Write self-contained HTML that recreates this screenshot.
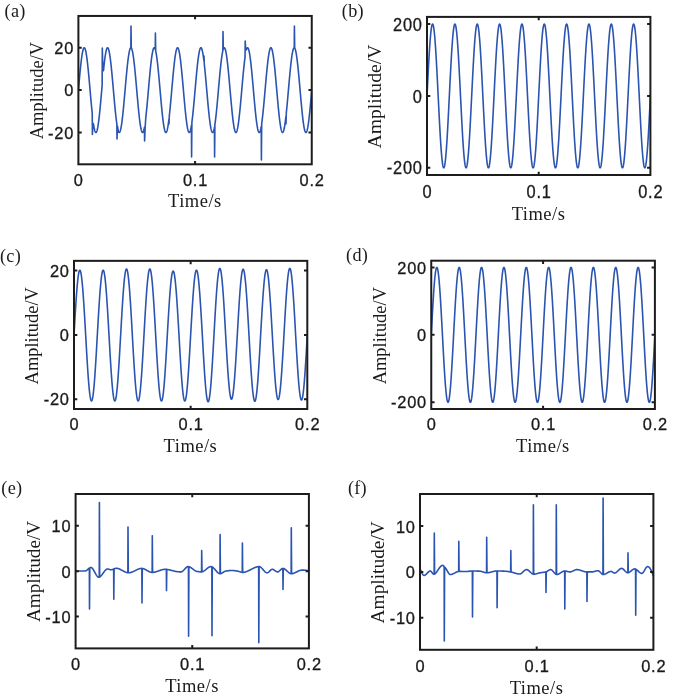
<!DOCTYPE html>
<html><head><meta charset="utf-8"><title>Amplitude vs time</title><style>html,body{margin:0;padding:0;background:#fff;width:685px;height:699px;overflow:hidden}svg{display:block}.tk{font-family:"Liberation Sans",Arial,sans-serif;font-size:16.4px;fill:#1a1a1a;stroke:#1a1a1a;stroke-width:0.3px}.lb{font-family:"Liberation Serif","Times New Roman",serif;font-size:18.2px;fill:#1a1a1a}.xl{font-size:17.8px}.yl{font-size:18.45px}</style></head><body>
<svg width="685" height="699" viewBox="0 0 685 699">
<rect width="685" height="699" fill="#fff"/>
<clipPath id="ca"><rect x="78.4" y="-14.05" width="233.35" height="208.35"/></clipPath>
<path d="M78.4 90.12 L78.65 87.27 L78.9 84.44 L79.15 81.62 L79.4 78.85 L79.65 76.13 L79.9 73.47 L80.15 70.88 L80.4 68.39 L80.65 65.99 L80.9 63.7 L81.15 61.53 L81.4 59.49 L81.65 57.59 L81.9 55.84 L82.15 54.24 L82.4 52.8 L82.65 51.54 L82.9 50.44 L83.15 49.53 L83.4 48.8 L83.65 48.26 L83.9 47.91 L84.15 47.75 L84.4 47.78 L84.65 48.01 L84.9 48.42 L85.15 49.02 L85.4 49.81 L85.65 50.78 L85.9 51.93 L86.15 53.26 L86.4 54.75 L86.65 56.4 L86.9 58.2 L87.15 60.15 L87.4 62.23 L87.65 64.44 L87.9 66.77 L88.15 69.2 L88.4 71.73 L88.65 74.34 L88.9 77.02 L89.15 79.76 L89.4 82.55 L89.65 85.37 L89.9 88.21 L90.15 91.07 L90.4 93.91 L90.65 96.75 L90.9 99.55 L91.15 102.31 L91.4 105.01 L91.65 107.64 L91.9 110.2 L92.15 112.67 L92.25 113.62 L92.4 134.4 L92.9 123 L93.6 124.63 L93.65 124.96 L93.9 126.5 L94.15 127.89 L94.4 129.09 L94.65 130.13 L94.9 130.98 L95.15 131.65 L95.4 132.13 L95.65 132.41 L95.9 132.51 L96.15 132.42 L96.4 132.13 L96.65 131.65 L96.9 130.99 L97.15 130.14 L97.4 129.11 L97.65 127.9 L97.9 126.52 L98.15 124.98 L98.4 123.27 L98.65 121.42 L98.9 119.43 L99.15 117.3 L99.4 115.05 L99.65 112.69 L99.9 110.23 L100.15 107.67 L100.4 105.04 L100.65 102.33 L100.9 99.57 L101.15 96.77 L101.4 93.94 L101.65 91.1 L101.9 88.24 L102.15 85.4 L102.15 85.4 L102.3 48 L102.8 69.5 L103.5 70.73 L103.65 69.23 L103.9 66.79 L104.15 64.46 L104.4 62.25 L104.65 60.17 L104.9 58.22 L105.15 56.42 L105.4 54.76 L105.65 53.27 L105.9 51.95 L106.15 50.79 L106.4 49.82 L106.65 49.03 L106.9 48.42 L107.15 48.01 L107.4 47.78 L107.65 47.75 L107.9 47.91 L108.15 48.26 L108.4 48.8 L108.65 49.52 L108.9 50.43 L109.15 51.52 L109.4 52.79 L109.65 54.22 L109.9 55.82 L110.15 57.57 L110.4 59.47 L110.65 61.51 L110.9 63.68 L111.15 65.97 L111.4 68.36 L111.65 70.86 L111.9 73.44 L112.15 76.1 L112.4 78.82 L112.65 81.6 L112.9 84.41 L113.15 87.25 L113.4 90.1 L113.65 92.95 L113.9 95.79 L114.15 98.6 L114.4 101.37 L114.65 104.1 L114.9 106.76 L115.15 109.34 L115.4 111.84 L115.65 114.24 L115.9 116.53 L116.15 118.7 L116.4 120.74 L116.65 122.64 L116.9 124.4 L116.85 124.06 L117 139 L117.5 126 L118.2 130.87 L118.4 131.44 L118.65 131.98 L118.9 132.34 L119.15 132.5 L119.4 132.47 L119.65 132.25 L119.9 131.84 L120.15 131.23 L120.4 130.45 L120.65 129.48 L120.9 128.33 L121.15 127.01 L121.4 125.52 L121.65 123.87 L121.9 122.07 L122.15 120.12 L122.4 118.04 L122.65 115.83 L122.9 113.51 L123.15 111.07 L123.4 108.55 L123.65 105.94 L123.9 103.26 L124.15 100.52 L124.4 97.73 L124.65 94.91 L124.9 92.06 L125.15 89.21 L125.4 86.36 L125.65 83.53 L125.9 80.73 L126.15 77.97 L126.4 75.27 L126.65 72.63 L126.9 70.07 L127.15 67.61 L127.4 65.24 L127.65 62.99 L127.9 60.86 L128.15 58.87 L128.4 57.01 L128.65 55.31 L128.9 53.76 L129.15 52.38 L129.4 51.17 L129.65 50.13 L129.9 49.28 L130.15 48.61 L130.4 48.13 L130.65 47.84 L130.9 47.74 L130.85 47.74 L131 26 L131.3 47.98 L131.4 48.12 L131.65 48.59 L131.9 49.26 L132.15 50.1 L132.4 51.13 L132.65 52.34 L132.9 53.72 L133.15 55.26 L133.4 56.96 L133.65 58.81 L133.9 60.8 L134.15 62.93 L134.4 65.17 L134.65 67.54 L134.9 70 L135.15 72.55 L135.4 75.19 L135.65 77.89 L135.9 80.65 L136.15 83.45 L136.4 86.28 L136.65 89.13 L136.9 91.98 L137.15 94.82 L137.4 97.65 L137.65 100.43 L137.9 103.18 L138.15 105.86 L138.4 108.47 L138.65 111 L138.9 113.43 L139.15 115.76 L139.4 117.97 L139.65 120.06 L139.9 122.01 L140.15 123.82 L140.4 125.47 L140.65 126.96 L140.9 128.29 L141.15 129.44 L141.4 130.42 L141.65 131.21 L141.9 131.82 L142.15 132.24 L142.4 132.47 L142.65 132.5 L142.9 132.34 L143.15 132 L143.4 131.46 L143.65 130.74 L143.9 129.83 L144.15 128.74 L144.4 127.48 L144.45 127.2 L144.6 141 L145.1 128 L145.8 117.48 L145.9 116.6 L146.15 114.31 L146.4 111.91 L146.65 109.42 L146.9 106.83 L147.15 104.18 L147.4 101.46 L147.65 98.68 L147.9 95.87 L148.15 93.03 L148.4 90.18 L148.65 87.33 L148.9 84.49 L149.15 81.68 L149.4 78.9 L149.65 76.18 L149.9 73.52 L150.15 70.93 L150.4 68.44 L150.65 66.04 L150.9 63.74 L151.15 61.57 L151.4 59.53 L151.65 57.63 L151.9 55.87 L152.15 54.27 L152.4 52.83 L152.65 51.56 L152.9 50.46 L153.15 49.55 L153.4 48.82 L153.65 48.27 L153.9 47.92 L154.15 47.75 L154.4 47.78 L154.65 48 L154.9 48.41 L155.15 49.01 L155.25 49.3 L155.4 33 L155.7 50.98 L155.9 51.91 L156.15 53.23 L156.4 54.72 L156.65 56.36 L156.9 58.16 L157.15 60.11 L157.4 62.19 L157.65 64.4 L157.9 66.72 L158.15 69.15 L158.4 71.68 L158.65 74.28 L158.9 76.96 L159.15 79.7 L159.4 82.49 L159.65 85.31 L159.9 88.16 L160.15 91.01 L160.4 93.86 L160.65 96.69 L160.9 99.49 L161.15 102.25 L161.4 104.95 L161.65 107.59 L161.9 110.15 L162.15 112.62 L162.4 114.98 L162.65 117.24 L162.9 119.37 L163.15 121.36 L163.4 123.22 L163.65 124.93 L163.9 126.48 L164.15 127.86 L164.4 129.07 L164.65 130.11 L164.9 130.96 L165.15 131.63 L165.4 132.12 L165.65 132.41 L165.9 132.51 L166.15 132.42 L166.4 132.14 L166.65 131.66 L166.9 131 L167.15 130.16 L167.4 129.13 L167.65 127.92 L167.9 126.55 L168.15 125.01 L168.4 123.31 L168.65 121.46 L168.9 119.47 L168.85 119.88 L169 124 L169.3 116.01 L169.4 115.1 L169.65 112.74 L169.9 110.28 L170.15 107.72 L170.4 105.09 L170.65 102.39 L170.9 99.63 L171.15 96.83 L171.4 94 L171.65 91.15 L171.9 88.3 L172.15 85.46 L172.4 82.63 L172.65 79.84 L172.9 77.1 L173.15 74.42 L173.4 71.8 L173.65 69.27 L173.9 66.84 L174.15 64.51 L174.4 62.3 L174.65 60.21 L174.9 58.26 L175.15 56.45 L175.4 54.79 L175.65 53.3 L175.9 51.97 L176.15 50.82 L176.4 49.84 L176.65 49.04 L176.9 48.43 L177.15 48.01 L177.4 47.79 L177.65 47.75 L177.9 47.9 L178.15 48.25 L178.4 48.78 L178.65 49.51 L178.9 50.41 L179.15 51.5 L179.4 52.76 L179.65 54.19 L179.9 55.79 L180.15 57.53 L180.4 59.43 L180.65 61.47 L180.9 63.63 L181.15 65.92 L181.4 68.31 L181.65 70.81 L181.9 73.39 L182.15 76.05 L182.4 78.77 L182.65 81.54 L182.9 84.35 L183.15 87.19 L183.4 90.04 L183.65 92.89 L183.9 95.73 L184.15 98.54 L184.4 101.32 L184.65 104.04 L184.9 106.7 L185.15 109.29 L185.4 111.79 L185.65 114.19 L185.9 116.48 L186.15 118.66 L186.4 120.7 L186.65 122.61 L186.9 124.36 L187.15 125.97 L187.4 127.41 L187.65 128.68 L187.9 129.78 L188.15 130.69 L188.4 131.43 L188.65 131.97 L188.9 132.33 L189.15 132.5 L189.4 132.47 L189.65 132.25 L189.9 131.85 L190.15 131.25 L190.4 130.46 L190.65 129.5 L190.9 128.35 L191.15 127.03 L191.4 125.55 L191.45 125.23 L191.6 157 L191.9 122.11 L192.15 120.16 L192.4 118.08 L192.65 115.88 L192.9 113.55 L193.15 111.12 L193.4 108.6 L193.65 105.99 L193.9 103.31 L194.15 100.57 L194.4 97.79 L194.65 94.96 L194.9 92.12 L195.15 89.27 L195.4 86.42 L195.65 83.59 L195.9 80.79 L196.15 78.03 L196.4 75.32 L196.65 72.68 L196.9 70.12 L197.15 67.66 L197.4 65.29 L197.65 63.04 L197.9 60.9 L198.15 58.91 L198.4 57.05 L198.65 55.34 L198.9 53.79 L199.15 52.4 L199.4 51.19 L199.65 50.15 L199.9 49.29 L200.15 48.62 L200.4 48.14 L200.65 47.84 L200.9 47.74 L201.15 47.83 L201.4 48.11 L201.65 48.58 L201.9 49.24 L202.15 50.08 L202.4 51.11 L202.65 52.31 L202.9 53.69 L203.15 55.23 L203.4 56.92 L203.65 58.77 L203.9 60.76 L203.85 60.35 L204 56 L204.3 64.22 L204.4 65.13 L204.65 67.49 L204.9 69.95 L205.15 72.5 L205.4 75.13 L205.65 77.84 L205.9 80.59 L206.15 83.39 L206.4 86.22 L206.65 89.07 L206.9 91.92 L207.15 94.77 L207.4 97.59 L207.65 100.38 L207.9 103.12 L208.15 105.81 L208.4 108.42 L208.65 110.95 L208.9 113.39 L209.15 115.72 L209.4 117.93 L209.65 120.02 L209.9 121.97 L210.15 123.78 L210.4 125.44 L210.65 126.94 L210.9 128.27 L211.15 129.42 L211.4 130.4 L211.65 131.2 L211.9 131.81 L212.15 132.23 L212.4 132.46 L212.65 132.5 L212.9 132.35 L213.15 132.01 L213.4 131.47 L213.65 130.75 L213.9 129.85 L214.15 128.76 L214.4 127.5 L214.45 127.23 L214.6 157 L214.9 124.48 L215.15 122.73 L215.4 120.84 L215.65 118.8 L215.9 116.64 L216.15 114.36 L216.4 111.96 L216.65 109.47 L216.9 106.89 L217.15 104.23 L217.4 101.51 L217.65 98.74 L217.9 95.93 L218.15 93.09 L218.4 90.24 L218.65 87.39 L218.9 84.55 L219.15 81.74 L219.4 78.96 L219.65 76.23 L219.9 73.57 L220.15 70.99 L220.4 68.48 L220.65 66.08 L220.9 63.79 L221.15 61.61 L221.4 59.57 L221.65 57.66 L221.9 55.9 L222.15 54.3 L222.4 52.86 L222.65 51.58 L222.9 50.48 L222.85 50.69 L223 31.6 L223.3 49.1 L223.4 48.83 L223.65 48.28 L223.9 47.92 L224.15 47.75 L224.4 47.78 L224.65 47.99 L224.9 48.4 L225.15 48.99 L225.4 49.78 L225.65 50.74 L225.9 51.88 L226.15 53.2 L226.4 54.68 L226.65 56.33 L226.9 58.13 L227.15 60.07 L227.4 62.15 L227.65 64.35 L227.9 66.67 L228.15 69.1 L228.4 71.62 L228.65 74.23 L228.9 76.91 L229.15 79.65 L229.4 82.44 L229.65 85.26 L229.9 88.1 L230.15 90.95 L230.4 93.8 L230.65 96.63 L230.9 99.44 L231.15 102.2 L231.4 104.9 L231.65 107.54 L231.9 110.1 L232.15 112.57 L232.4 114.94 L232.65 117.19 L232.9 119.33 L233.15 121.33 L233.4 123.18 L233.65 124.89 L233.9 126.45 L234.15 127.83 L234.4 129.05 L234.65 130.09 L234.9 130.95 L235.15 131.62 L235.4 132.11 L235.65 132.41 L235.9 132.51 L236.15 132.42 L236.4 132.14 L236.65 131.67 L236.9 131.02 L237.15 130.17 L237.4 129.15 L237.65 127.95 L237.9 126.58 L238.15 125.04 L238.4 123.34 L238.65 121.5 L238.9 119.51 L239.15 117.39 L239.4 115.14 L239.65 112.79 L239.9 110.33 L240.15 107.77 L240.4 105.14 L240.65 102.44 L240.9 99.69 L241.15 96.89 L241.4 94.06 L241.65 91.21 L241.9 88.36 L242.15 85.51 L242.4 82.69 L242.65 79.9 L242.9 77.15 L243.15 74.47 L243.4 71.86 L243.65 69.32 L243.9 66.89 L244.15 64.56 L244.4 62.34 L244.65 60.25 L244.9 58.29 L245.15 56.48 L245.05 57.19 L245.2 41 L245.7 49 L246.4 49.86 L246.4 49.86 L246.65 49.06 L246.9 48.45 L247.15 48.02 L247.4 47.79 L247.65 47.75 L247.9 47.9 L248.15 48.24 L248.4 48.77 L248.65 49.49 L248.9 50.39 L249.15 51.48 L249.4 52.73 L249.65 54.16 L249.9 55.75 L250.15 57.5 L250.4 59.39 L250.65 61.43 L250.9 63.59 L251.15 65.87 L251.4 68.26 L251.65 70.76 L251.9 73.34 L252.15 75.99 L252.4 78.71 L252.65 81.48 L252.9 84.29 L253.15 87.13 L253.4 89.98 L253.65 92.83 L253.9 95.67 L254.15 98.49 L254.4 101.26 L254.65 103.99 L254.9 106.65 L255.15 109.24 L255.4 111.74 L255.65 114.14 L255.9 116.44 L256.15 118.61 L256.4 120.66 L256.65 122.57 L256.9 124.33 L257.15 125.94 L257.4 127.38 L257.65 128.66 L257.9 129.76 L258.15 130.68 L258.4 131.42 L258.65 131.97 L258.9 132.33 L259.15 132.5 L259.4 132.47 L259.65 132.26 L259.9 131.86 L260.15 131.26 L260.4 130.48 L260.65 129.52 L260.9 128.38 L261.15 127.06 L261.25 126.49 L261.4 160 L261.7 123.59 L261.9 122.14 L262.15 120.2 L262.4 118.12 L262.65 115.92 L262.9 113.6 L263.15 111.17 L263.4 108.65 L263.65 106.04 L263.9 103.37 L264.15 100.63 L264.4 97.84 L264.65 95.02 L264.9 92.18 L265.15 89.33 L265.4 86.48 L265.65 83.65 L265.9 80.84 L266.15 78.08 L266.4 75.38 L266.65 72.74 L266.9 70.18 L267.15 67.7 L267.4 65.34 L267.65 63.08 L267.9 60.95 L268.15 58.94 L268.4 57.08 L268.65 55.37 L268.9 53.82 L269.15 52.43 L269.4 51.21 L269.65 50.17 L269.9 49.31 L270.15 48.63 L270.4 48.14 L270.65 47.85 L270.9 47.74 L271.15 47.83 L271.4 48.1 L271.65 48.57 L271.9 49.23 L272.15 50.07 L272.4 51.09 L272.65 52.29 L272.9 53.66 L273.15 55.19 L273.4 56.89 L273.65 58.73 L273.9 60.72 L274.15 62.84 L274.4 65.08 L274.65 67.44 L274.9 69.9 L275.15 72.45 L275.4 75.08 L275.65 77.78 L275.9 80.54 L276.15 83.34 L276.4 86.16 L276.65 89.01 L276.9 91.86 L277.15 94.71 L277.4 97.53 L277.65 100.32 L277.9 103.07 L278.15 105.75 L278.4 108.37 L278.65 110.9 L278.9 113.34 L279.15 115.67 L279.4 117.89 L279.65 119.98 L279.9 121.94 L280.15 123.75 L280.4 125.41 L280.65 126.91 L280.9 128.24 L281.15 129.4 L281.4 130.38 L281.65 131.19 L281.9 131.8 L282.15 132.23 L282.4 132.46 L282.65 132.5 L282.9 132.35 L283.15 132.01 L283.4 131.48 L283.65 130.77 L283.9 129.87 L284.15 128.79 L284.4 127.53 L284.65 126.1 L284.9 124.51 L285.15 122.77 L285.4 120.88 L285.65 118.85 L285.9 116.68 L285.85 117.13 L286 124 L286.3 112.98 L286.4 112.01 L286.65 109.52 L286.9 106.94 L287.15 104.28 L287.4 101.57 L287.65 98.79 L287.9 95.98 L288.15 93.15 L288.4 90.3 L288.65 87.44 L288.9 84.61 L289.15 81.79 L289.4 79.01 L289.65 76.29 L289.9 73.63 L290.15 71.04 L290.4 68.53 L290.65 66.13 L290.9 63.83 L291.15 61.66 L291.4 59.61 L291.65 57.7 L291.9 55.94 L292.15 54.33 L292.4 52.88 L292.65 51.61 L292.9 50.5 L293.15 49.58 L293.4 48.84 L293.65 48.29 L293.9 47.93 L294.15 47.75 L294.25 47.74 L294.4 26 L294.7 48.05 L294.9 48.39 L295.15 48.98 L295.4 49.76 L295.65 50.72 L295.9 51.86 L296.15 53.17 L296.4 54.65 L296.65 56.29 L296.9 58.09 L297.15 60.03 L297.4 62.1 L297.65 64.31 L297.9 66.63 L298.15 69.05 L298.4 71.57 L298.65 74.18 L298.9 76.86 L299.15 79.59 L299.4 82.38 L299.65 85.2 L299.9 88.04 L300.15 90.9 L300.4 93.74 L300.65 96.58 L300.9 99.38 L301.15 102.14 L301.4 104.85 L301.65 107.49 L301.9 110.05 L302.15 112.52 L302.4 114.89 L302.65 117.15 L302.9 119.28 L303.15 121.29 L303.4 123.15 L303.65 124.86 L303.9 126.42 L304.15 127.81 L304.4 129.03 L304.65 130.07 L304.9 130.93 L305.15 131.61 L305.4 132.1 L305.65 132.4 L305.9 132.51 L306.15 132.43 L306.4 132.15 L306.65 131.69 L306.9 131.03 L307.15 130.19 L307.4 129.17 L307.65 127.98 L307.9 126.61 L308.15 125.07 L308.4 123.38 L308.65 121.54 L308.9 119.55 L309.15 117.43 L309.4 115.19 L309.65 112.83 L309.9 110.38 L310.15 107.83 L310.4 105.2 L310.65 102.5 L310.9 99.74 L311.15 96.94 L311.4 94.11 L311.65 91.27 L311.75 90.12" fill="none" stroke="#2b54b0" stroke-width="1.6" stroke-linejoin="round" clip-path="url(#ca)"/>
<rect x="78.4" y="15.95" width="233.35" height="148.35" fill="none" stroke="#1c1c1c" stroke-width="2.0"/>
<path d="M195.07 164.3V161M195.07 15.95V19.25M78.4 47.74H81.7M311.75 47.74H308.45M78.4 90.12H81.7M311.75 90.12H308.45M78.4 132.51H81.7M311.75 132.51H308.45" stroke="#1c1c1c" stroke-width="2.0"/>
<text class="tk" transform="translate(72.7 53.88)" x="-18.39" style="letter-spacing:0.8px">20</text>
<text class="tk" transform="translate(72.7 96.27)" x="-8.49" style="letter-spacing:0.8px">0</text>
<text class="tk" transform="translate(72.7 138.65)" x="-24.68" style="letter-spacing:0.8px">-20</text>
<text class="tk" transform="translate(78.4 185.6)" x="-4.56">0</text>
<text class="tk" transform="translate(195.07 185.6)" x="-12.2" style="letter-spacing:0.8px">0.1</text>
<text class="tk" transform="translate(311.75 185.6)" x="-12.2" style="letter-spacing:0.8px">0.2</text>
<text class="lb xl" transform="translate(194.47 207) scale(1.04 1)" x="-25.41" style="letter-spacing:0.47px">Time/s</text>
<text class="lb yl" transform="translate(42.5 90.55) scale(1 1) rotate(-90)" x="-48.66">Amplitude/V</text>
<text class="lb" transform="translate(5.4 16.65)" x="-0.82" style="letter-spacing:0.3px">(a)</text>
<clipPath id="cb"><rect x="427" y="-13.1" width="223.4" height="218.1"/></clipPath>
<path d="M427 95.95 L427.16 92.73 L427.32 89.51 L427.48 86.3 L427.64 83.12 L427.8 79.96 L427.96 76.83 L428.12 73.74 L428.28 70.7 L428.44 67.71 L428.6 64.77 L428.76 61.9 L428.91 59.09 L429.07 56.36 L429.23 53.71 L429.39 51.14 L429.55 48.67 L429.71 46.29 L429.87 44.01 L430.03 41.83 L430.19 39.76 L430.35 37.81 L430.51 35.97 L430.67 34.26 L430.83 32.67 L430.99 31.2 L431.15 29.87 L431.31 28.67 L431.47 27.6 L431.63 26.68 L431.79 25.89 L431.95 25.24 L432.11 24.74 L432.27 24.38 L432.43 24.16 L432.58 24.09 L432.74 24.16 L432.9 24.38 L433.06 24.74 L433.22 25.24 L433.38 25.89 L433.54 26.68 L433.7 27.6 L433.86 28.67 L434.02 29.87 L434.18 31.2 L434.34 32.67 L434.5 34.26 L434.66 35.97 L434.82 37.81 L434.98 39.76 L435.14 41.83 L435.3 44.01 L435.46 46.29 L435.62 48.67 L435.78 51.14 L435.94 53.71 L436.1 56.36 L436.26 59.09 L436.41 61.9 L436.57 64.77 L436.73 67.71 L436.89 70.7 L437.05 73.74 L437.21 76.83 L437.37 79.96 L437.53 83.12 L437.69 86.3 L437.85 89.51 L438.01 92.73 L438.17 95.95 L438.33 99.17 L438.49 102.39 L438.65 105.6 L438.81 108.78 L438.97 111.94 L439.13 115.07 L439.29 118.16 L439.45 121.2 L439.61 124.19 L439.77 127.13 L439.93 130 L440.08 132.81 L440.24 135.54 L440.4 138.19 L440.56 140.76 L440.72 143.23 L440.88 145.61 L441.04 147.89 L441.2 150.07 L441.36 152.14 L441.52 154.09 L441.68 155.93 L441.84 157.64 L442 159.23 L442.16 160.7 L442.32 162.03 L442.48 163.23 L442.64 164.3 L442.8 165.22 L442.96 166.01 L443.12 166.66 L443.28 167.16 L443.44 167.52 L443.6 167.74 L443.75 167.81 L443.91 167.74 L444.07 167.52 L444.23 167.16 L444.39 166.66 L444.55 166.01 L444.71 165.22 L444.87 164.3 L445.03 163.23 L445.19 162.03 L445.35 160.7 L445.51 159.23 L445.67 157.64 L445.83 155.93 L445.99 154.09 L446.15 152.14 L446.31 150.07 L446.47 147.89 L446.63 145.61 L446.79 143.23 L446.95 140.76 L447.11 138.19 L447.27 135.54 L447.43 132.81 L447.58 130 L447.74 127.13 L447.9 124.19 L448.06 121.2 L448.22 118.16 L448.38 115.07 L448.54 111.94 L448.7 108.78 L448.86 105.6 L449.02 102.39 L449.18 99.17 L449.34 95.95 L449.5 92.73 L449.66 89.51 L449.82 86.3 L449.98 83.12 L450.14 79.96 L450.3 76.83 L450.46 73.74 L450.62 70.7 L450.78 67.71 L450.94 64.77 L451.1 61.9 L451.25 59.09 L451.41 56.36 L451.57 53.71 L451.73 51.14 L451.89 48.67 L452.05 46.29 L452.21 44.01 L452.37 41.83 L452.53 39.76 L452.69 37.81 L452.85 35.97 L453.01 34.26 L453.17 32.67 L453.33 31.2 L453.49 29.87 L453.65 28.67 L453.81 27.6 L453.97 26.68 L454.13 25.89 L454.29 25.24 L454.45 24.74 L454.61 24.38 L454.77 24.16 L454.93 24.09 L455.08 24.16 L455.24 24.38 L455.4 24.74 L455.56 25.24 L455.72 25.89 L455.88 26.68 L456.04 27.6 L456.2 28.67 L456.36 29.87 L456.52 31.2 L456.68 32.67 L456.84 34.26 L457 35.97 L457.16 37.81 L457.32 39.76 L457.48 41.83 L457.64 44.01 L457.8 46.29 L457.96 48.67 L458.12 51.14 L458.28 53.71 L458.44 56.36 L458.6 59.09 L458.75 61.9 L458.91 64.77 L459.07 67.71 L459.23 70.7 L459.39 73.74 L459.55 76.83 L459.71 79.96 L459.87 83.12 L460.03 86.3 L460.19 89.51 L460.35 92.73 L460.51 95.95 L460.67 99.17 L460.83 102.39 L460.99 105.6 L461.15 108.78 L461.31 111.94 L461.47 115.07 L461.63 118.16 L461.79 121.2 L461.95 124.19 L462.11 127.13 L462.27 130 L462.42 132.81 L462.58 135.54 L462.74 138.19 L462.9 140.76 L463.06 143.23 L463.22 145.61 L463.38 147.89 L463.54 150.07 L463.7 152.14 L463.86 154.09 L464.02 155.93 L464.18 157.64 L464.34 159.23 L464.5 160.7 L464.66 162.03 L464.82 163.23 L464.98 164.3 L465.14 165.22 L465.3 166.01 L465.46 166.66 L465.62 167.16 L465.78 167.52 L465.94 167.74 L466.1 167.81 L466.25 167.74 L466.41 167.52 L466.57 167.16 L466.73 166.66 L466.89 166.01 L467.05 165.22 L467.21 164.3 L467.37 163.23 L467.53 162.03 L467.69 160.7 L467.85 159.23 L468.01 157.64 L468.17 155.93 L468.33 154.09 L468.49 152.14 L468.65 150.07 L468.81 147.89 L468.97 145.61 L469.13 143.23 L469.29 140.76 L469.45 138.19 L469.61 135.54 L469.77 132.81 L469.92 130 L470.08 127.13 L470.24 124.19 L470.4 121.2 L470.56 118.16 L470.72 115.07 L470.88 111.94 L471.04 108.78 L471.2 105.6 L471.36 102.39 L471.52 99.17 L471.68 95.95 L471.84 92.73 L472 89.51 L472.16 86.3 L472.32 83.12 L472.48 79.96 L472.64 76.83 L472.8 73.74 L472.96 70.7 L473.12 67.71 L473.28 64.77 L473.44 61.9 L473.59 59.09 L473.75 56.36 L473.91 53.71 L474.07 51.14 L474.23 48.67 L474.39 46.29 L474.55 44.01 L474.71 41.83 L474.87 39.76 L475.03 37.81 L475.19 35.97 L475.35 34.26 L475.51 32.67 L475.67 31.2 L475.83 29.87 L475.99 28.67 L476.15 27.6 L476.31 26.68 L476.47 25.89 L476.63 25.24 L476.79 24.74 L476.95 24.38 L477.11 24.16 L477.26 24.09 L477.42 24.16 L477.58 24.38 L477.74 24.74 L477.9 25.24 L478.06 25.89 L478.22 26.68 L478.38 27.6 L478.54 28.67 L478.7 29.87 L478.86 31.2 L479.02 32.67 L479.18 34.26 L479.34 35.97 L479.5 37.81 L479.66 39.76 L479.82 41.83 L479.98 44.01 L480.14 46.29 L480.3 48.67 L480.46 51.14 L480.62 53.71 L480.78 56.36 L480.94 59.09 L481.09 61.9 L481.25 64.77 L481.41 67.71 L481.57 70.7 L481.73 73.74 L481.89 76.83 L482.05 79.96 L482.21 83.12 L482.37 86.3 L482.53 89.51 L482.69 92.73 L482.85 95.95 L483.01 99.17 L483.17 102.39 L483.33 105.6 L483.49 108.78 L483.65 111.94 L483.81 115.07 L483.97 118.16 L484.13 121.2 L484.29 124.19 L484.45 127.13 L484.61 130 L484.76 132.81 L484.92 135.54 L485.08 138.19 L485.24 140.76 L485.4 143.23 L485.56 145.61 L485.72 147.89 L485.88 150.07 L486.04 152.14 L486.2 154.09 L486.36 155.93 L486.52 157.64 L486.68 159.23 L486.84 160.7 L487 162.03 L487.16 163.23 L487.32 164.3 L487.48 165.22 L487.64 166.01 L487.8 166.66 L487.96 167.16 L488.12 167.52 L488.28 167.74 L488.44 167.81 L488.59 167.74 L488.75 167.52 L488.91 167.16 L489.07 166.66 L489.23 166.01 L489.39 165.22 L489.55 164.3 L489.71 163.23 L489.87 162.03 L490.03 160.7 L490.19 159.23 L490.35 157.64 L490.51 155.93 L490.67 154.09 L490.83 152.14 L490.99 150.07 L491.15 147.89 L491.31 145.61 L491.47 143.23 L491.63 140.76 L491.79 138.19 L491.95 135.54 L492.11 132.81 L492.26 130 L492.42 127.13 L492.58 124.19 L492.74 121.2 L492.9 118.16 L493.06 115.07 L493.22 111.94 L493.38 108.78 L493.54 105.6 L493.7 102.39 L493.86 99.17 L494.02 95.95 L494.18 92.73 L494.34 89.51 L494.5 86.3 L494.66 83.12 L494.82 79.96 L494.98 76.83 L495.14 73.74 L495.3 70.7 L495.46 67.71 L495.62 64.77 L495.78 61.9 L495.93 59.09 L496.09 56.36 L496.25 53.71 L496.41 51.14 L496.57 48.67 L496.73 46.29 L496.89 44.01 L497.05 41.83 L497.21 39.76 L497.37 37.81 L497.53 35.97 L497.69 34.26 L497.85 32.67 L498.01 31.2 L498.17 29.87 L498.33 28.67 L498.49 27.6 L498.65 26.68 L498.81 25.89 L498.97 25.24 L499.13 24.74 L499.29 24.38 L499.45 24.16 L499.61 24.09 L499.76 24.16 L499.92 24.38 L500.08 24.74 L500.24 25.24 L500.4 25.89 L500.56 26.68 L500.72 27.6 L500.88 28.67 L501.04 29.87 L501.2 31.2 L501.36 32.67 L501.52 34.26 L501.68 35.97 L501.84 37.81 L502 39.76 L502.16 41.83 L502.32 44.01 L502.48 46.29 L502.64 48.67 L502.8 51.14 L502.96 53.71 L503.12 56.36 L503.28 59.09 L503.43 61.9 L503.59 64.77 L503.75 67.71 L503.91 70.7 L504.07 73.74 L504.23 76.83 L504.39 79.96 L504.55 83.12 L504.71 86.3 L504.87 89.51 L505.03 92.73 L505.19 95.95 L505.35 99.17 L505.51 102.39 L505.67 105.6 L505.83 108.78 L505.99 111.94 L506.15 115.07 L506.31 118.16 L506.47 121.2 L506.63 124.19 L506.79 127.13 L506.95 130 L507.1 132.81 L507.26 135.54 L507.42 138.19 L507.58 140.76 L507.74 143.23 L507.9 145.61 L508.06 147.89 L508.22 150.07 L508.38 152.14 L508.54 154.09 L508.7 155.93 L508.86 157.64 L509.02 159.23 L509.18 160.7 L509.34 162.03 L509.5 163.23 L509.66 164.3 L509.82 165.22 L509.98 166.01 L510.14 166.66 L510.3 167.16 L510.46 167.52 L510.62 167.74 L510.77 167.81 L510.93 167.74 L511.09 167.52 L511.25 167.16 L511.41 166.66 L511.57 166.01 L511.73 165.22 L511.89 164.3 L512.05 163.23 L512.21 162.03 L512.37 160.7 L512.53 159.23 L512.69 157.64 L512.85 155.93 L513.01 154.09 L513.17 152.14 L513.33 150.07 L513.49 147.89 L513.65 145.61 L513.81 143.23 L513.97 140.76 L514.13 138.19 L514.29 135.54 L514.45 132.81 L514.6 130 L514.76 127.13 L514.92 124.19 L515.08 121.2 L515.24 118.16 L515.4 115.07 L515.56 111.94 L515.72 108.78 L515.88 105.6 L516.04 102.39 L516.2 99.17 L516.36 95.95 L516.52 92.73 L516.68 89.51 L516.84 86.3 L517 83.12 L517.16 79.96 L517.32 76.83 L517.48 73.74 L517.64 70.7 L517.8 67.71 L517.96 64.77 L518.12 61.9 L518.27 59.09 L518.43 56.36 L518.59 53.71 L518.75 51.14 L518.91 48.67 L519.07 46.29 L519.23 44.01 L519.39 41.83 L519.55 39.76 L519.71 37.81 L519.87 35.97 L520.03 34.26 L520.19 32.67 L520.35 31.2 L520.51 29.87 L520.67 28.67 L520.83 27.6 L520.99 26.68 L521.15 25.89 L521.31 25.24 L521.47 24.74 L521.63 24.38 L521.79 24.16 L521.94 24.09 L522.1 24.16 L522.26 24.38 L522.42 24.74 L522.58 25.24 L522.74 25.89 L522.9 26.68 L523.06 27.6 L523.22 28.67 L523.38 29.87 L523.54 31.2 L523.7 32.67 L523.86 34.26 L524.02 35.97 L524.18 37.81 L524.34 39.76 L524.5 41.83 L524.66 44.01 L524.82 46.29 L524.98 48.67 L525.14 51.14 L525.3 53.71 L525.46 56.36 L525.62 59.09 L525.77 61.9 L525.93 64.77 L526.09 67.71 L526.25 70.7 L526.41 73.74 L526.57 76.83 L526.73 79.96 L526.89 83.12 L527.05 86.3 L527.21 89.51 L527.37 92.73 L527.53 95.95 L527.69 99.17 L527.85 102.39 L528.01 105.6 L528.17 108.78 L528.33 111.94 L528.49 115.07 L528.65 118.16 L528.81 121.2 L528.97 124.19 L529.13 127.13 L529.29 130 L529.44 132.81 L529.6 135.54 L529.76 138.19 L529.92 140.76 L530.08 143.23 L530.24 145.61 L530.4 147.89 L530.56 150.07 L530.72 152.14 L530.88 154.09 L531.04 155.93 L531.2 157.64 L531.36 159.23 L531.52 160.7 L531.68 162.03 L531.84 163.23 L532 164.3 L532.16 165.22 L532.32 166.01 L532.48 166.66 L532.64 167.16 L532.8 167.52 L532.96 167.74 L533.12 167.81 L533.27 167.74 L533.43 167.52 L533.59 167.16 L533.75 166.66 L533.91 166.01 L534.07 165.22 L534.23 164.3 L534.39 163.23 L534.55 162.03 L534.71 160.7 L534.87 159.23 L535.03 157.64 L535.19 155.93 L535.35 154.09 L535.51 152.14 L535.67 150.07 L535.83 147.89 L535.99 145.61 L536.15 143.23 L536.31 140.76 L536.47 138.19 L536.63 135.54 L536.79 132.81 L536.94 130 L537.1 127.13 L537.26 124.19 L537.42 121.2 L537.58 118.16 L537.74 115.07 L537.9 111.94 L538.06 108.78 L538.22 105.6 L538.38 102.39 L538.54 99.17 L538.7 95.95 L538.86 92.73 L539.02 89.51 L539.18 86.3 L539.34 83.12 L539.5 79.96 L539.66 76.83 L539.82 73.74 L539.98 70.7 L540.14 67.71 L540.3 64.77 L540.46 61.9 L540.61 59.09 L540.77 56.36 L540.93 53.71 L541.09 51.14 L541.25 48.67 L541.41 46.29 L541.57 44.01 L541.73 41.83 L541.89 39.76 L542.05 37.81 L542.21 35.97 L542.37 34.26 L542.53 32.67 L542.69 31.2 L542.85 29.87 L543.01 28.67 L543.17 27.6 L543.33 26.68 L543.49 25.89 L543.65 25.24 L543.81 24.74 L543.97 24.38 L544.13 24.16 L544.28 24.09 L544.44 24.16 L544.6 24.38 L544.76 24.74 L544.92 25.24 L545.08 25.89 L545.24 26.68 L545.4 27.6 L545.56 28.67 L545.72 29.87 L545.88 31.2 L546.04 32.67 L546.2 34.26 L546.36 35.97 L546.52 37.81 L546.68 39.76 L546.84 41.83 L547 44.01 L547.16 46.29 L547.32 48.67 L547.48 51.14 L547.64 53.71 L547.8 56.36 L547.96 59.09 L548.11 61.9 L548.27 64.77 L548.43 67.71 L548.59 70.7 L548.75 73.74 L548.91 76.83 L549.07 79.96 L549.23 83.12 L549.39 86.3 L549.55 89.51 L549.71 92.73 L549.87 95.95 L550.03 99.17 L550.19 102.39 L550.35 105.6 L550.51 108.78 L550.67 111.94 L550.83 115.07 L550.99 118.16 L551.15 121.2 L551.31 124.19 L551.47 127.13 L551.63 130 L551.78 132.81 L551.94 135.54 L552.1 138.19 L552.26 140.76 L552.42 143.23 L552.58 145.61 L552.74 147.89 L552.9 150.07 L553.06 152.14 L553.22 154.09 L553.38 155.93 L553.54 157.64 L553.7 159.23 L553.86 160.7 L554.02 162.03 L554.18 163.23 L554.34 164.3 L554.5 165.22 L554.66 166.01 L554.82 166.66 L554.98 167.16 L555.14 167.52 L555.3 167.74 L555.45 167.81 L555.61 167.74 L555.77 167.52 L555.93 167.16 L556.09 166.66 L556.25 166.01 L556.41 165.22 L556.57 164.3 L556.73 163.23 L556.89 162.03 L557.05 160.7 L557.21 159.23 L557.37 157.64 L557.53 155.93 L557.69 154.09 L557.85 152.14 L558.01 150.07 L558.17 147.89 L558.33 145.61 L558.49 143.23 L558.65 140.76 L558.81 138.19 L558.97 135.54 L559.13 132.81 L559.28 130 L559.44 127.13 L559.6 124.19 L559.76 121.2 L559.92 118.16 L560.08 115.07 L560.24 111.94 L560.4 108.78 L560.56 105.6 L560.72 102.39 L560.88 99.17 L561.04 95.95 L561.2 92.73 L561.36 89.51 L561.52 86.3 L561.68 83.12 L561.84 79.96 L562 76.83 L562.16 73.74 L562.32 70.7 L562.48 67.71 L562.64 64.77 L562.8 61.9 L562.95 59.09 L563.11 56.36 L563.27 53.71 L563.43 51.14 L563.59 48.67 L563.75 46.29 L563.91 44.01 L564.07 41.83 L564.23 39.76 L564.39 37.81 L564.55 35.97 L564.71 34.26 L564.87 32.67 L565.03 31.2 L565.19 29.87 L565.35 28.67 L565.51 27.6 L565.67 26.68 L565.83 25.89 L565.99 25.24 L566.15 24.74 L566.31 24.38 L566.47 24.16 L566.62 24.09 L566.78 24.16 L566.94 24.38 L567.1 24.74 L567.26 25.24 L567.42 25.89 L567.58 26.68 L567.74 27.6 L567.9 28.67 L568.06 29.87 L568.22 31.2 L568.38 32.67 L568.54 34.26 L568.7 35.97 L568.86 37.81 L569.02 39.76 L569.18 41.83 L569.34 44.01 L569.5 46.29 L569.66 48.67 L569.82 51.14 L569.98 53.71 L570.14 56.36 L570.3 59.09 L570.45 61.9 L570.61 64.77 L570.77 67.71 L570.93 70.7 L571.09 73.74 L571.25 76.83 L571.41 79.96 L571.57 83.12 L571.73 86.3 L571.89 89.51 L572.05 92.73 L572.21 95.95 L572.37 99.17 L572.53 102.39 L572.69 105.6 L572.85 108.78 L573.01 111.94 L573.17 115.07 L573.33 118.16 L573.49 121.2 L573.65 124.19 L573.81 127.13 L573.97 130 L574.12 132.81 L574.28 135.54 L574.44 138.19 L574.6 140.76 L574.76 143.23 L574.92 145.61 L575.08 147.89 L575.24 150.07 L575.4 152.14 L575.56 154.09 L575.72 155.93 L575.88 157.64 L576.04 159.23 L576.2 160.7 L576.36 162.03 L576.52 163.23 L576.68 164.3 L576.84 165.22 L577 166.01 L577.16 166.66 L577.32 167.16 L577.48 167.52 L577.64 167.74 L577.79 167.81 L577.95 167.74 L578.11 167.52 L578.27 167.16 L578.43 166.66 L578.59 166.01 L578.75 165.22 L578.91 164.3 L579.07 163.23 L579.23 162.03 L579.39 160.7 L579.55 159.23 L579.71 157.64 L579.87 155.93 L580.03 154.09 L580.19 152.14 L580.35 150.07 L580.51 147.89 L580.67 145.61 L580.83 143.23 L580.99 140.76 L581.15 138.19 L581.31 135.54 L581.47 132.81 L581.62 130 L581.78 127.13 L581.94 124.19 L582.1 121.2 L582.26 118.16 L582.42 115.07 L582.58 111.94 L582.74 108.78 L582.9 105.6 L583.06 102.39 L583.22 99.17 L583.38 95.95 L583.54 92.73 L583.7 89.51 L583.86 86.3 L584.02 83.12 L584.18 79.96 L584.34 76.83 L584.5 73.74 L584.66 70.7 L584.82 67.71 L584.98 64.77 L585.14 61.9 L585.29 59.09 L585.45 56.36 L585.61 53.71 L585.77 51.14 L585.93 48.67 L586.09 46.29 L586.25 44.01 L586.41 41.83 L586.57 39.76 L586.73 37.81 L586.89 35.97 L587.05 34.26 L587.21 32.67 L587.37 31.2 L587.53 29.87 L587.69 28.67 L587.85 27.6 L588.01 26.68 L588.17 25.89 L588.33 25.24 L588.49 24.74 L588.65 24.38 L588.81 24.16 L588.96 24.09 L589.12 24.16 L589.28 24.38 L589.44 24.74 L589.6 25.24 L589.76 25.89 L589.92 26.68 L590.08 27.6 L590.24 28.67 L590.4 29.87 L590.56 31.2 L590.72 32.67 L590.88 34.26 L591.04 35.97 L591.2 37.81 L591.36 39.76 L591.52 41.83 L591.68 44.01 L591.84 46.29 L592 48.67 L592.16 51.14 L592.32 53.71 L592.48 56.36 L592.64 59.09 L592.79 61.9 L592.95 64.77 L593.11 67.71 L593.27 70.7 L593.43 73.74 L593.59 76.83 L593.75 79.96 L593.91 83.12 L594.07 86.3 L594.23 89.51 L594.39 92.73 L594.55 95.95 L594.71 99.17 L594.87 102.39 L595.03 105.6 L595.19 108.78 L595.35 111.94 L595.51 115.07 L595.67 118.16 L595.83 121.2 L595.99 124.19 L596.15 127.13 L596.31 130 L596.46 132.81 L596.62 135.54 L596.78 138.19 L596.94 140.76 L597.1 143.23 L597.26 145.61 L597.42 147.89 L597.58 150.07 L597.74 152.14 L597.9 154.09 L598.06 155.93 L598.22 157.64 L598.38 159.23 L598.54 160.7 L598.7 162.03 L598.86 163.23 L599.02 164.3 L599.18 165.22 L599.34 166.01 L599.5 166.66 L599.66 167.16 L599.82 167.52 L599.98 167.74 L600.13 167.81 L600.29 167.74 L600.45 167.52 L600.61 167.16 L600.77 166.66 L600.93 166.01 L601.09 165.22 L601.25 164.3 L601.41 163.23 L601.57 162.03 L601.73 160.7 L601.89 159.23 L602.05 157.64 L602.21 155.93 L602.37 154.09 L602.53 152.14 L602.69 150.07 L602.85 147.89 L603.01 145.61 L603.17 143.23 L603.33 140.76 L603.49 138.19 L603.65 135.54 L603.81 132.81 L603.96 130 L604.12 127.13 L604.28 124.19 L604.44 121.2 L604.6 118.16 L604.76 115.07 L604.92 111.94 L605.08 108.78 L605.24 105.6 L605.4 102.39 L605.56 99.17 L605.72 95.95 L605.88 92.73 L606.04 89.51 L606.2 86.3 L606.36 83.12 L606.52 79.96 L606.68 76.83 L606.84 73.74 L607 70.7 L607.16 67.71 L607.32 64.77 L607.48 61.9 L607.63 59.09 L607.79 56.36 L607.95 53.71 L608.11 51.14 L608.27 48.67 L608.43 46.29 L608.59 44.01 L608.75 41.83 L608.91 39.76 L609.07 37.81 L609.23 35.97 L609.39 34.26 L609.55 32.67 L609.71 31.2 L609.87 29.87 L610.03 28.67 L610.19 27.6 L610.35 26.68 L610.51 25.89 L610.67 25.24 L610.83 24.74 L610.99 24.38 L611.15 24.16 L611.3 24.09 L611.46 24.16 L611.62 24.38 L611.78 24.74 L611.94 25.24 L612.1 25.89 L612.26 26.68 L612.42 27.6 L612.58 28.67 L612.74 29.87 L612.9 31.2 L613.06 32.67 L613.22 34.26 L613.38 35.97 L613.54 37.81 L613.7 39.76 L613.86 41.83 L614.02 44.01 L614.18 46.29 L614.34 48.67 L614.5 51.14 L614.66 53.71 L614.82 56.36 L614.98 59.09 L615.13 61.9 L615.29 64.77 L615.45 67.71 L615.61 70.7 L615.77 73.74 L615.93 76.83 L616.09 79.96 L616.25 83.12 L616.41 86.3 L616.57 89.51 L616.73 92.73 L616.89 95.95 L617.05 99.17 L617.21 102.39 L617.37 105.6 L617.53 108.78 L617.69 111.94 L617.85 115.07 L618.01 118.16 L618.17 121.2 L618.33 124.19 L618.49 127.13 L618.65 130 L618.8 132.81 L618.96 135.54 L619.12 138.19 L619.28 140.76 L619.44 143.23 L619.6 145.61 L619.76 147.89 L619.92 150.07 L620.08 152.14 L620.24 154.09 L620.4 155.93 L620.56 157.64 L620.72 159.23 L620.88 160.7 L621.04 162.03 L621.2 163.23 L621.36 164.3 L621.52 165.22 L621.68 166.01 L621.84 166.66 L622 167.16 L622.16 167.52 L622.32 167.74 L622.47 167.81 L622.63 167.74 L622.79 167.52 L622.95 167.16 L623.11 166.66 L623.27 166.01 L623.43 165.22 L623.59 164.3 L623.75 163.23 L623.91 162.03 L624.07 160.7 L624.23 159.23 L624.39 157.64 L624.55 155.93 L624.71 154.09 L624.87 152.14 L625.03 150.07 L625.19 147.89 L625.35 145.61 L625.51 143.23 L625.67 140.76 L625.83 138.19 L625.99 135.54 L626.15 132.81 L626.3 130 L626.46 127.13 L626.62 124.19 L626.78 121.2 L626.94 118.16 L627.1 115.07 L627.26 111.94 L627.42 108.78 L627.58 105.6 L627.74 102.39 L627.9 99.17 L628.06 95.95 L628.22 92.73 L628.38 89.51 L628.54 86.3 L628.7 83.12 L628.86 79.96 L629.02 76.83 L629.18 73.74 L629.34 70.7 L629.5 67.71 L629.66 64.77 L629.82 61.9 L629.97 59.09 L630.13 56.36 L630.29 53.71 L630.45 51.14 L630.61 48.67 L630.77 46.29 L630.93 44.01 L631.09 41.83 L631.25 39.76 L631.41 37.81 L631.57 35.97 L631.73 34.26 L631.89 32.67 L632.05 31.2 L632.21 29.87 L632.37 28.67 L632.53 27.6 L632.69 26.68 L632.85 25.89 L633.01 25.24 L633.17 24.74 L633.33 24.38 L633.49 24.16 L633.64 24.09 L633.8 24.16 L633.96 24.38 L634.12 24.74 L634.28 25.24 L634.44 25.89 L634.6 26.68 L634.76 27.6 L634.92 28.67 L635.08 29.87 L635.24 31.2 L635.4 32.67 L635.56 34.26 L635.72 35.97 L635.88 37.81 L636.04 39.76 L636.2 41.83 L636.36 44.01 L636.52 46.29 L636.68 48.67 L636.84 51.14 L637 53.71 L637.16 56.36 L637.32 59.09 L637.47 61.9 L637.63 64.77 L637.79 67.71 L637.95 70.7 L638.11 73.74 L638.27 76.83 L638.43 79.96 L638.59 83.12 L638.75 86.3 L638.91 89.51 L639.07 92.73 L639.23 95.95 L639.39 99.17 L639.55 102.39 L639.71 105.6 L639.87 108.78 L640.03 111.94 L640.19 115.07 L640.35 118.16 L640.51 121.2 L640.67 124.19 L640.83 127.13 L640.99 130 L641.14 132.81 L641.3 135.54 L641.46 138.19 L641.62 140.76 L641.78 143.23 L641.94 145.61 L642.1 147.89 L642.26 150.07 L642.42 152.14 L642.58 154.09 L642.74 155.93 L642.9 157.64 L643.06 159.23 L643.22 160.7 L643.38 162.03 L643.54 163.23 L643.7 164.3 L643.86 165.22 L644.02 166.01 L644.18 166.66 L644.34 167.16 L644.5 167.52 L644.66 167.74 L644.81 167.81 L644.97 167.74 L645.13 167.52 L645.29 167.16 L645.45 166.66 L645.61 166.01 L645.77 165.22 L645.93 164.3 L646.09 163.23 L646.25 162.03 L646.41 160.7 L646.57 159.23 L646.73 157.64 L646.89 155.93 L647.05 154.09 L647.21 152.14 L647.37 150.07 L647.53 147.89 L647.69 145.61 L647.85 143.23 L648.01 140.76 L648.17 138.19 L648.33 135.54 L648.49 132.81 L648.64 130 L648.8 127.13 L648.96 124.19 L649.12 121.2 L649.28 118.16 L649.44 115.07 L649.6 111.94 L649.76 108.78 L649.92 105.6 L650.08 102.39 L650.24 99.17 L650.4 95.95" fill="none" stroke="#2b54b0" stroke-width="1.6" stroke-linejoin="round" clip-path="url(#cb)"/>
<rect x="427" y="16.9" width="223.4" height="158.1" fill="none" stroke="#1c1c1c" stroke-width="2.0"/>
<path d="M538.7 175V171.7M538.7 16.9V20.2M427 24.09H430.3M650.4 24.09H647.1M427 95.95H430.3M650.4 95.95H647.1M427 167.81H430.3M650.4 167.81H647.1" stroke="#1c1c1c" stroke-width="2.0"/>
<text class="tk" transform="translate(421.3 30.63) scale(1 1.07)" x="-28.33" style="letter-spacing:0.8px">200</text>
<text class="tk" transform="translate(421.3 102.5) scale(1 1.07)" x="-8.49" style="letter-spacing:0.8px">0</text>
<text class="tk" transform="translate(421.3 174.36) scale(1 1.07)" x="-34.58" style="letter-spacing:0.8px">-200</text>
<text class="tk" transform="translate(427 197.8) scale(1 1.07)" x="-4.56">0</text>
<text class="tk" transform="translate(538.7 197.8) scale(1 1.07)" x="-12.2" style="letter-spacing:0.8px">0.1</text>
<text class="tk" transform="translate(650.4 197.8) scale(1 1.07)" x="-12.2" style="letter-spacing:0.8px">0.2</text>
<text class="lb xl" transform="translate(538.1 219.8) scale(1.04 1.07)" x="-25.41" style="letter-spacing:0.47px">Time/s</text>
<text class="lb yl" transform="translate(380.7 96.55) scale(1 1.07) rotate(-90)" x="-48.66">Amplitude/V</text>
<text class="lb" transform="translate(342.6 16.9)" x="-0.82" style="letter-spacing:0.3px">(b)</text>
<clipPath id="cc"><rect x="74" y="230.85" width="233.3" height="208.15"/></clipPath>
<path d="M74 334.93 L74.17 332.02 L74.33 329.12 L74.5 326.24 L74.67 323.37 L74.83 320.52 L75 317.7 L75.17 314.92 L75.33 312.18 L75.5 309.48 L75.67 306.84 L75.83 304.25 L76 301.72 L76.17 299.26 L76.33 296.87 L76.5 294.56 L76.67 292.33 L76.83 290.19 L77 288.13 L77.17 286.17 L77.33 284.31 L77.5 282.55 L77.67 280.9 L77.83 279.35 L78 277.92 L78.17 276.6 L78.33 275.4 L78.5 274.32 L78.67 273.36 L78.83 272.52 L79 271.81 L79.17 271.23 L79.33 270.78 L79.5 270.45 L79.67 270.26 L79.83 270.19 L80 270.26 L80.17 270.45 L80.33 270.78 L80.5 271.23 L80.67 271.81 L80.83 272.52 L81 273.36 L81.17 274.32 L81.33 275.4 L81.5 276.6 L81.67 277.92 L81.83 279.35 L82 280.9 L82.17 282.55 L82.33 284.31 L82.5 286.17 L82.67 288.13 L82.83 290.19 L83 292.33 L83.17 294.56 L83.33 296.87 L83.5 299.26 L83.67 301.72 L83.83 304.25 L84 306.84 L84.17 309.48 L84.33 312.18 L84.5 314.92 L84.67 317.7 L84.83 320.52 L85 323.37 L85.17 326.24 L85.33 329.12 L85.5 332.02 L85.66 334.93 L85.83 337.89 L86 340.84 L86.16 343.79 L86.33 346.71 L86.5 349.62 L86.66 352.49 L86.83 355.33 L87 358.12 L87.16 360.87 L87.33 363.57 L87.5 366.21 L87.66 368.79 L87.83 371.3 L88 373.73 L88.16 376.09 L88.33 378.36 L88.5 380.55 L88.66 382.65 L88.83 384.65 L89 386.54 L89.16 388.34 L89.33 390.03 L89.5 391.6 L89.66 393.06 L89.83 394.41 L90 395.64 L90.16 396.74 L90.33 397.72 L90.5 398.57 L90.66 399.29 L90.83 399.89 L91 400.35 L91.16 400.68 L91.33 400.88 L91.5 400.95 L91.66 400.88 L91.83 400.68 L92 400.35 L92.16 399.89 L92.33 399.29 L92.5 398.57 L92.66 397.72 L92.83 396.74 L93 395.64 L93.16 394.41 L93.33 393.06 L93.5 391.6 L93.66 390.03 L93.83 388.34 L94 386.54 L94.16 384.65 L94.33 382.65 L94.5 380.55 L94.66 378.36 L94.83 376.09 L95 373.73 L95.16 371.3 L95.33 368.79 L95.5 366.21 L95.66 363.57 L95.83 360.87 L96 358.12 L96.16 355.33 L96.33 352.49 L96.5 349.62 L96.66 346.71 L96.83 343.79 L97 340.84 L97.16 337.89 L97.33 334.93 L97.5 332.02 L97.66 329.12 L97.83 326.24 L98 323.37 L98.16 320.52 L98.33 317.7 L98.5 314.92 L98.66 312.18 L98.83 309.48 L99 306.84 L99.16 304.25 L99.33 301.72 L99.5 299.26 L99.66 296.87 L99.83 294.56 L100 292.33 L100.16 290.19 L100.33 288.13 L100.5 286.17 L100.66 284.31 L100.83 282.55 L101 280.9 L101.16 279.35 L101.33 277.92 L101.5 276.6 L101.66 275.4 L101.83 274.32 L102 273.36 L102.16 272.52 L102.33 271.81 L102.5 271.23 L102.66 270.78 L102.83 270.45 L103 270.26 L103.16 270.19 L103.33 270.26 L103.5 270.45 L103.66 270.78 L103.83 271.23 L104 271.81 L104.16 272.52 L104.33 273.36 L104.5 274.32 L104.66 275.4 L104.83 276.6 L105 277.92 L105.16 279.35 L105.33 280.9 L105.5 282.55 L105.66 284.31 L105.83 286.17 L106 288.13 L106.16 290.19 L106.33 292.33 L106.5 294.56 L106.66 296.87 L106.83 299.26 L107 301.72 L107.16 304.25 L107.33 306.84 L107.5 309.48 L107.66 312.18 L107.83 314.92 L108 317.7 L108.16 320.52 L108.33 323.37 L108.5 326.24 L108.66 329.12 L108.83 332.02 L109 334.93 L109.16 337.89 L109.33 340.84 L109.49 343.79 L109.66 346.71 L109.83 349.62 L109.99 352.49 L110.16 355.33 L110.33 358.12 L110.49 360.87 L110.66 363.57 L110.83 366.21 L110.99 368.79 L111.16 371.3 L111.33 373.73 L111.49 376.09 L111.66 378.36 L111.83 380.55 L111.99 382.65 L112.16 384.65 L112.33 386.54 L112.49 388.34 L112.66 390.03 L112.83 391.6 L112.99 393.06 L113.16 394.41 L113.33 395.64 L113.49 396.74 L113.66 397.72 L113.83 398.57 L113.99 399.29 L114.16 399.89 L114.33 400.35 L114.49 400.68 L114.66 400.88 L114.83 400.95 L114.99 400.88 L115.16 400.68 L115.33 400.35 L115.49 399.89 L115.66 399.29 L115.83 398.57 L115.99 397.72 L116.16 396.74 L116.33 395.64 L116.49 394.41 L116.66 393.06 L116.83 391.6 L116.99 390.03 L117.16 388.34 L117.33 386.54 L117.49 384.65 L117.66 382.65 L117.83 380.55 L117.99 378.36 L118.16 376.09 L118.33 373.73 L118.49 371.3 L118.66 368.79 L118.83 366.21 L118.99 363.57 L119.16 360.87 L119.33 358.12 L119.49 355.33 L119.66 352.49 L119.83 349.62 L119.99 346.71 L120.16 343.79 L120.33 340.84 L120.49 337.89 L120.66 334.93 L120.83 331.97 L120.99 329.02 L121.16 326.08 L121.33 323.15 L121.49 320.25 L121.66 317.39 L121.83 314.55 L121.99 311.76 L122.16 309.01 L122.33 306.32 L122.49 303.68 L122.66 301.11 L122.83 298.61 L122.99 296.17 L123.16 293.82 L123.33 291.55 L123.49 289.37 L123.66 287.27 L123.83 285.28 L123.99 283.38 L124.16 281.59 L124.33 279.9 L124.49 278.33 L124.66 276.87 L124.83 275.53 L124.99 274.3 L125.16 273.2 L125.33 272.22 L125.49 271.37 L125.66 270.65 L125.83 270.06 L125.99 269.59 L126.16 269.26 L126.33 269.06 L126.49 269 L126.66 269.06 L126.83 269.26 L126.99 269.59 L127.16 270.06 L127.33 270.65 L127.49 271.37 L127.66 272.22 L127.83 273.2 L127.99 274.3 L128.16 275.53 L128.33 276.87 L128.49 278.33 L128.66 279.9 L128.83 281.59 L128.99 283.38 L129.16 285.28 L129.33 287.27 L129.49 289.37 L129.66 291.55 L129.83 293.82 L129.99 296.17 L130.16 298.61 L130.33 301.11 L130.49 303.68 L130.66 306.32 L130.83 309.01 L130.99 311.76 L131.16 314.55 L131.33 317.39 L131.49 320.25 L131.66 323.15 L131.83 326.08 L131.99 329.02 L132.16 331.97 L132.32 334.93 L132.49 337.89 L132.66 340.84 L132.82 343.79 L132.99 346.71 L133.16 349.62 L133.32 352.49 L133.49 355.33 L133.66 358.12 L133.82 360.87 L133.99 363.57 L134.16 366.21 L134.32 368.79 L134.49 371.3 L134.66 373.73 L134.82 376.09 L134.99 378.36 L135.16 380.55 L135.32 382.65 L135.49 384.65 L135.66 386.54 L135.82 388.34 L135.99 390.03 L136.16 391.6 L136.32 393.06 L136.49 394.41 L136.66 395.64 L136.82 396.74 L136.99 397.72 L137.16 398.57 L137.32 399.29 L137.49 399.89 L137.66 400.35 L137.82 400.68 L137.99 400.88 L138.16 400.95 L138.32 400.88 L138.49 400.68 L138.66 400.35 L138.82 399.89 L138.99 399.29 L139.16 398.57 L139.32 397.72 L139.49 396.74 L139.66 395.64 L139.82 394.41 L139.99 393.06 L140.16 391.6 L140.32 390.03 L140.49 388.34 L140.66 386.54 L140.82 384.65 L140.99 382.65 L141.16 380.55 L141.32 378.36 L141.49 376.09 L141.66 373.73 L141.82 371.3 L141.99 368.79 L142.16 366.21 L142.32 363.57 L142.49 360.87 L142.66 358.12 L142.82 355.33 L142.99 352.49 L143.16 349.62 L143.32 346.71 L143.49 343.79 L143.66 340.84 L143.82 337.89 L143.99 334.93 L144.16 331.97 L144.32 329.02 L144.49 326.08 L144.66 323.15 L144.82 320.25 L144.99 317.39 L145.16 314.55 L145.32 311.76 L145.49 309.01 L145.66 306.32 L145.82 303.68 L145.99 301.11 L146.16 298.61 L146.32 296.17 L146.49 293.82 L146.66 291.55 L146.82 289.37 L146.99 287.27 L147.16 285.28 L147.32 283.38 L147.49 281.59 L147.66 279.9 L147.82 278.33 L147.99 276.87 L148.16 275.53 L148.32 274.3 L148.49 273.2 L148.66 272.22 L148.82 271.37 L148.99 270.65 L149.16 270.06 L149.32 269.59 L149.49 269.26 L149.66 269.06 L149.82 269 L149.99 269.06 L150.16 269.26 L150.32 269.59 L150.49 270.06 L150.66 270.65 L150.82 271.37 L150.99 272.22 L151.16 273.2 L151.32 274.3 L151.49 275.53 L151.66 276.87 L151.82 278.33 L151.99 279.9 L152.16 281.59 L152.32 283.38 L152.49 285.28 L152.66 287.27 L152.82 289.37 L152.99 291.55 L153.16 293.82 L153.32 296.17 L153.49 298.61 L153.66 301.11 L153.82 303.68 L153.99 306.32 L154.16 309.01 L154.32 311.76 L154.49 314.55 L154.66 317.39 L154.82 320.25 L154.99 323.15 L155.16 326.08 L155.32 329.02 L155.49 331.97 L155.66 334.93 L155.82 337.89 L155.99 340.84 L156.15 343.79 L156.32 346.71 L156.49 349.62 L156.65 352.49 L156.82 355.33 L156.99 358.12 L157.15 360.87 L157.32 363.57 L157.49 366.21 L157.65 368.79 L157.82 371.3 L157.99 373.73 L158.15 376.09 L158.32 378.36 L158.49 380.55 L158.65 382.65 L158.82 384.65 L158.99 386.54 L159.15 388.34 L159.32 390.03 L159.49 391.6 L159.65 393.06 L159.82 394.41 L159.99 395.64 L160.15 396.74 L160.32 397.72 L160.49 398.57 L160.65 399.29 L160.82 399.89 L160.99 400.35 L161.15 400.68 L161.32 400.88 L161.49 400.95 L161.65 400.88 L161.82 400.68 L161.99 400.35 L162.15 399.89 L162.32 399.29 L162.49 398.57 L162.65 397.72 L162.82 396.74 L162.99 395.64 L163.15 394.41 L163.32 393.06 L163.49 391.6 L163.65 390.03 L163.82 388.34 L163.99 386.54 L164.15 384.65 L164.32 382.65 L164.49 380.55 L164.65 378.36 L164.82 376.09 L164.99 373.73 L165.15 371.3 L165.32 368.79 L165.49 366.21 L165.65 363.57 L165.82 360.87 L165.99 358.12 L166.15 355.33 L166.32 352.49 L166.49 349.62 L166.65 346.71 L166.82 343.79 L166.99 340.84 L167.15 337.89 L167.32 334.93 L167.49 332.06 L167.65 329.2 L167.82 326.36 L167.99 323.53 L168.15 320.72 L168.32 317.94 L168.49 315.2 L168.65 312.5 L168.82 309.84 L168.99 307.23 L169.15 304.68 L169.32 302.18 L169.49 299.76 L169.65 297.4 L169.82 295.13 L169.99 292.93 L170.15 290.81 L170.32 288.79 L170.49 286.85 L170.65 285.02 L170.82 283.28 L170.99 281.65 L171.15 280.13 L171.32 278.71 L171.49 277.41 L171.65 276.23 L171.82 275.16 L171.99 274.22 L172.15 273.39 L172.32 272.69 L172.49 272.12 L172.65 271.67 L172.82 271.35 L172.99 271.16 L173.15 271.09 L173.32 271.16 L173.49 271.35 L173.65 271.67 L173.82 272.12 L173.99 272.69 L174.15 273.39 L174.32 274.22 L174.49 275.16 L174.65 276.23 L174.82 277.41 L174.99 278.71 L175.15 280.13 L175.32 281.65 L175.49 283.28 L175.65 285.02 L175.82 286.85 L175.99 288.79 L176.15 290.81 L176.32 292.93 L176.49 295.13 L176.65 297.4 L176.82 299.76 L176.99 302.18 L177.15 304.68 L177.32 307.23 L177.49 309.84 L177.65 312.5 L177.82 315.2 L177.99 317.94 L178.15 320.72 L178.32 323.53 L178.49 326.36 L178.65 329.2 L178.82 332.06 L178.99 334.92 L179.15 337.89 L179.32 340.84 L179.48 343.79 L179.65 346.71 L179.82 349.62 L179.98 352.49 L180.15 355.33 L180.32 358.12 L180.48 360.87 L180.65 363.57 L180.82 366.21 L180.98 368.79 L181.15 371.3 L181.32 373.73 L181.48 376.09 L181.65 378.36 L181.82 380.55 L181.98 382.65 L182.15 384.65 L182.32 386.54 L182.48 388.34 L182.65 390.03 L182.82 391.6 L182.98 393.06 L183.15 394.41 L183.32 395.64 L183.48 396.74 L183.65 397.72 L183.82 398.57 L183.98 399.29 L184.15 399.89 L184.32 400.35 L184.48 400.68 L184.65 400.88 L184.82 400.95 L184.98 400.88 L185.15 400.68 L185.32 400.35 L185.48 399.89 L185.65 399.29 L185.82 398.57 L185.98 397.72 L186.15 396.74 L186.32 395.64 L186.48 394.41 L186.65 393.06 L186.82 391.6 L186.98 390.03 L187.15 388.34 L187.32 386.54 L187.48 384.65 L187.65 382.65 L187.82 380.55 L187.98 378.36 L188.15 376.09 L188.32 373.73 L188.48 371.3 L188.65 368.79 L188.82 366.21 L188.98 363.57 L189.15 360.87 L189.32 358.12 L189.48 355.33 L189.65 352.49 L189.82 349.62 L189.98 346.71 L190.15 343.79 L190.32 340.84 L190.48 337.89 L190.65 334.92 L190.82 332.02 L190.98 329.12 L191.15 326.24 L191.32 323.37 L191.48 320.52 L191.65 317.7 L191.82 314.92 L191.98 312.18 L192.15 309.48 L192.32 306.84 L192.48 304.25 L192.65 301.72 L192.82 299.26 L192.98 296.87 L193.15 294.56 L193.32 292.33 L193.48 290.19 L193.65 288.13 L193.82 286.17 L193.98 284.31 L194.15 282.55 L194.32 280.9 L194.48 279.35 L194.65 277.92 L194.82 276.6 L194.98 275.4 L195.15 274.32 L195.32 273.36 L195.48 272.52 L195.65 271.81 L195.82 271.23 L195.98 270.78 L196.15 270.45 L196.32 270.26 L196.48 270.19 L196.65 270.26 L196.82 270.45 L196.98 270.78 L197.15 271.23 L197.32 271.81 L197.48 272.52 L197.65 273.36 L197.82 274.32 L197.98 275.4 L198.15 276.6 L198.32 277.92 L198.48 279.35 L198.65 280.9 L198.82 282.55 L198.98 284.31 L199.15 286.17 L199.32 288.13 L199.48 290.19 L199.65 292.33 L199.82 294.56 L199.98 296.87 L200.15 299.26 L200.32 301.72 L200.48 304.25 L200.65 306.84 L200.82 309.48 L200.98 312.18 L201.15 314.92 L201.32 317.7 L201.48 320.52 L201.65 323.37 L201.82 326.24 L201.98 329.12 L202.15 332.02 L202.31 334.93 L202.48 337.92 L202.65 340.92 L202.81 343.9 L202.98 346.86 L203.15 349.8 L203.31 352.7 L203.48 355.58 L203.65 358.41 L203.81 361.19 L203.98 363.92 L204.15 366.59 L204.31 369.2 L204.48 371.74 L204.65 374.21 L204.81 376.59 L204.98 378.89 L205.15 381.11 L205.31 383.23 L205.48 385.25 L205.65 387.17 L205.81 388.99 L205.98 390.7 L206.15 392.29 L206.31 393.77 L206.48 395.14 L206.65 396.38 L206.81 397.49 L206.98 398.48 L207.15 399.35 L207.31 400.08 L207.48 400.68 L207.65 401.15 L207.81 401.48 L207.98 401.69 L208.15 401.75 L208.31 401.69 L208.48 401.48 L208.65 401.15 L208.81 400.68 L208.98 400.08 L209.15 399.35 L209.31 398.48 L209.48 397.49 L209.65 396.38 L209.81 395.14 L209.98 393.77 L210.15 392.29 L210.31 390.7 L210.48 388.99 L210.65 387.17 L210.81 385.25 L210.98 383.23 L211.15 381.11 L211.31 378.89 L211.48 376.59 L211.65 374.21 L211.81 371.74 L211.98 369.2 L212.15 366.59 L212.31 363.92 L212.48 361.19 L212.65 358.41 L212.81 355.58 L212.98 352.7 L213.15 349.8 L213.31 346.86 L213.48 343.9 L213.65 340.92 L213.81 337.92 L213.98 334.93 L214.15 331.94 L214.31 328.96 L214.48 325.99 L214.65 323.04 L214.81 320.12 L214.98 317.22 L215.15 314.36 L215.31 311.54 L215.48 308.77 L215.65 306.05 L215.81 303.39 L215.98 300.8 L216.15 298.27 L216.31 295.81 L216.48 293.44 L216.65 291.15 L216.81 288.94 L216.98 286.83 L217.15 284.82 L217.31 282.9 L217.48 281.09 L217.65 279.39 L217.81 277.8 L217.98 276.33 L218.15 274.98 L218.31 273.74 L218.48 272.63 L218.65 271.64 L218.81 270.78 L218.98 270.05 L219.15 269.46 L219.31 268.99 L219.48 268.65 L219.65 268.45 L219.81 268.39 L219.98 268.45 L220.15 268.65 L220.31 268.99 L220.48 269.46 L220.65 270.05 L220.81 270.78 L220.98 271.64 L221.15 272.63 L221.31 273.74 L221.48 274.98 L221.65 276.33 L221.81 277.8 L221.98 279.39 L222.15 281.09 L222.31 282.9 L222.48 284.82 L222.65 286.83 L222.81 288.94 L222.98 291.15 L223.15 293.44 L223.31 295.81 L223.48 298.27 L223.65 300.8 L223.81 303.39 L223.98 306.05 L224.15 308.77 L224.31 311.54 L224.48 314.36 L224.65 317.22 L224.81 320.12 L224.98 323.04 L225.15 325.99 L225.31 328.96 L225.48 331.94 L225.65 334.93 L225.81 337.81 L225.98 340.68 L226.14 343.55 L226.31 346.4 L226.48 349.22 L226.64 352.02 L226.81 354.78 L226.98 357.5 L227.14 360.18 L227.31 362.8 L227.48 365.37 L227.64 367.88 L227.81 370.32 L227.98 372.69 L228.14 374.99 L228.31 377.2 L228.48 379.33 L228.64 381.37 L228.81 383.31 L228.98 385.16 L229.14 386.91 L229.31 388.55 L229.48 390.08 L229.64 391.51 L229.81 392.81 L229.98 394.01 L230.14 395.08 L230.31 396.03 L230.48 396.86 L230.64 397.57 L230.81 398.14 L230.98 398.6 L231.14 398.92 L231.31 399.11 L231.48 399.18 L231.64 399.11 L231.81 398.92 L231.98 398.6 L232.14 398.14 L232.31 397.57 L232.48 396.86 L232.64 396.03 L232.81 395.08 L232.98 394.01 L233.14 392.81 L233.31 391.51 L233.48 390.08 L233.64 388.55 L233.81 386.91 L233.98 385.16 L234.14 383.31 L234.31 381.37 L234.48 379.33 L234.64 377.2 L234.81 374.99 L234.98 372.69 L235.14 370.32 L235.31 367.88 L235.48 365.37 L235.64 362.8 L235.81 360.18 L235.98 357.5 L236.14 354.78 L236.31 352.02 L236.48 349.22 L236.64 346.4 L236.81 343.55 L236.98 340.68 L237.14 337.81 L237.31 334.92 L237.48 331.98 L237.64 329.04 L237.81 326.11 L237.98 323.21 L238.14 320.32 L238.31 317.46 L238.48 314.64 L238.64 311.86 L238.81 309.13 L238.98 306.45 L239.14 303.82 L239.31 301.26 L239.48 298.77 L239.64 296.34 L239.81 294 L239.98 291.74 L240.14 289.57 L240.31 287.48 L240.48 285.5 L240.64 283.61 L240.81 281.82 L240.98 280.15 L241.14 278.58 L241.31 277.13 L241.48 275.79 L241.64 274.57 L241.81 273.47 L241.98 272.5 L242.14 271.65 L242.31 270.93 L242.48 270.34 L242.64 269.88 L242.81 269.55 L242.98 269.35 L243.14 269.29 L243.31 269.35 L243.48 269.55 L243.64 269.88 L243.81 270.34 L243.98 270.93 L244.14 271.65 L244.31 272.5 L244.48 273.47 L244.64 274.57 L244.81 275.79 L244.98 277.13 L245.14 278.58 L245.31 280.15 L245.48 281.82 L245.64 283.61 L245.81 285.5 L245.98 287.48 L246.14 289.57 L246.31 291.74 L246.48 294 L246.64 296.34 L246.81 298.77 L246.98 301.26 L247.14 303.82 L247.31 306.45 L247.48 309.13 L247.64 311.86 L247.81 314.64 L247.98 317.46 L248.14 320.32 L248.31 323.21 L248.48 326.11 L248.64 329.04 L248.81 331.98 L248.97 334.93 L249.14 337.9 L249.31 340.87 L249.47 343.83 L249.64 346.77 L249.81 349.69 L249.97 352.58 L250.14 355.43 L250.31 358.24 L250.47 361 L250.64 363.71 L250.81 366.36 L250.97 368.95 L251.14 371.47 L251.31 373.92 L251.47 376.29 L251.64 378.58 L251.81 380.77 L251.97 382.88 L252.14 384.89 L252.31 386.8 L252.47 388.6 L252.64 390.3 L252.81 391.88 L252.97 393.35 L253.14 394.7 L253.31 395.93 L253.47 397.04 L253.64 398.02 L253.81 398.88 L253.97 399.61 L254.14 400.2 L254.31 400.67 L254.47 401 L254.64 401.2 L254.81 401.27 L254.97 401.2 L255.14 401 L255.31 400.67 L255.47 400.2 L255.64 399.61 L255.81 398.88 L255.97 398.02 L256.14 397.04 L256.31 395.93 L256.47 394.7 L256.64 393.35 L256.81 391.88 L256.97 390.3 L257.14 388.6 L257.31 386.8 L257.47 384.89 L257.64 382.88 L257.81 380.77 L257.97 378.58 L258.14 376.29 L258.31 373.92 L258.47 371.47 L258.64 368.95 L258.81 366.36 L258.97 363.71 L259.14 361 L259.31 358.24 L259.47 355.43 L259.64 352.58 L259.81 349.69 L259.97 346.77 L260.14 343.83 L260.31 340.87 L260.47 337.9 L260.64 334.93 L260.81 332 L260.97 329.08 L261.14 326.17 L261.31 323.28 L261.47 320.41 L261.64 317.57 L261.81 314.77 L261.97 312.01 L262.14 309.29 L262.31 306.63 L262.47 304.02 L262.64 301.47 L262.81 299 L262.97 296.59 L263.14 294.26 L263.31 292.02 L263.47 289.86 L263.64 287.79 L263.81 285.81 L263.97 283.94 L264.14 282.16 L264.31 280.5 L264.47 278.94 L264.64 277.49 L264.81 276.17 L264.97 274.96 L265.14 273.87 L265.31 272.9 L265.47 272.06 L265.64 271.34 L265.81 270.75 L265.97 270.3 L266.14 269.97 L266.31 269.77 L266.47 269.71 L266.64 269.77 L266.81 269.97 L266.97 270.3 L267.14 270.75 L267.31 271.34 L267.47 272.06 L267.64 272.9 L267.81 273.87 L267.97 274.96 L268.14 276.17 L268.31 277.49 L268.47 278.94 L268.64 280.5 L268.81 282.16 L268.97 283.94 L269.14 285.81 L269.31 287.79 L269.47 289.86 L269.64 292.02 L269.81 294.26 L269.97 296.59 L270.14 299 L270.31 301.47 L270.47 304.02 L270.64 306.63 L270.81 309.29 L270.97 312.01 L271.14 314.77 L271.31 317.57 L271.47 320.41 L271.64 323.28 L271.81 326.17 L271.97 329.08 L272.14 332 L272.31 334.93 L272.47 337.82 L272.64 340.71 L272.8 343.59 L272.97 346.46 L273.14 349.29 L273.3 352.1 L273.47 354.88 L273.64 357.61 L273.8 360.3 L273.97 362.94 L274.14 365.52 L274.3 368.04 L274.47 370.5 L274.64 372.88 L274.8 375.19 L274.97 377.41 L275.14 379.55 L275.3 381.6 L275.47 383.55 L275.64 385.41 L275.8 387.17 L275.97 388.82 L276.14 390.36 L276.3 391.79 L276.47 393.1 L276.64 394.3 L276.8 395.38 L276.97 396.34 L277.14 397.17 L277.3 397.88 L277.47 398.46 L277.64 398.91 L277.8 399.24 L277.97 399.43 L278.14 399.5 L278.3 399.43 L278.47 399.24 L278.64 398.91 L278.8 398.46 L278.97 397.88 L279.14 397.17 L279.3 396.34 L279.47 395.38 L279.64 394.3 L279.8 393.1 L279.97 391.79 L280.14 390.36 L280.3 388.82 L280.47 387.17 L280.64 385.41 L280.8 383.55 L280.97 381.6 L281.14 379.55 L281.3 377.41 L281.47 375.19 L281.64 372.88 L281.8 370.5 L281.97 368.04 L282.14 365.52 L282.3 362.94 L282.47 360.3 L282.64 357.61 L282.8 354.88 L282.97 352.1 L283.14 349.29 L283.3 346.46 L283.47 343.59 L283.64 340.71 L283.8 337.82 L283.97 334.93 L284.14 331.94 L284.3 328.96 L284.47 325.99 L284.64 323.04 L284.8 320.12 L284.97 317.22 L285.14 314.36 L285.3 311.54 L285.47 308.77 L285.64 306.05 L285.8 303.39 L285.97 300.8 L286.14 298.27 L286.3 295.81 L286.47 293.44 L286.64 291.15 L286.8 288.94 L286.97 286.83 L287.14 284.82 L287.3 282.9 L287.47 281.09 L287.64 279.39 L287.8 277.8 L287.97 276.33 L288.14 274.98 L288.3 273.74 L288.47 272.63 L288.64 271.64 L288.8 270.78 L288.97 270.05 L289.14 269.46 L289.3 268.99 L289.47 268.65 L289.64 268.45 L289.8 268.39 L289.97 268.45 L290.14 268.65 L290.3 268.99 L290.47 269.46 L290.64 270.05 L290.8 270.78 L290.97 271.64 L291.14 272.63 L291.3 273.74 L291.47 274.98 L291.64 276.33 L291.8 277.8 L291.97 279.39 L292.14 281.09 L292.3 282.9 L292.47 284.82 L292.64 286.83 L292.8 288.94 L292.97 291.15 L293.14 293.44 L293.3 295.81 L293.47 298.27 L293.64 300.8 L293.8 303.39 L293.97 306.05 L294.14 308.77 L294.3 311.54 L294.47 314.36 L294.64 317.22 L294.8 320.12 L294.97 323.04 L295.14 325.99 L295.3 328.96 L295.47 331.94 L295.63 334.93 L295.8 337.84 L295.97 340.76 L296.13 343.66 L296.3 346.54 L296.47 349.4 L296.63 352.23 L296.8 355.03 L296.97 357.78 L297.13 360.49 L297.3 363.15 L297.47 365.75 L297.63 368.29 L297.8 370.76 L297.97 373.16 L298.13 375.49 L298.3 377.73 L298.47 379.88 L298.63 381.95 L298.8 383.92 L298.97 385.79 L299.13 387.56 L299.3 389.22 L299.47 390.77 L299.63 392.21 L299.8 393.54 L299.97 394.75 L300.13 395.83 L300.3 396.8 L300.47 397.64 L300.63 398.35 L300.8 398.94 L300.97 399.39 L301.13 399.72 L301.3 399.92 L301.47 399.98 L301.63 399.92 L301.8 399.72 L301.97 399.39 L302.13 398.94 L302.3 398.35 L302.47 397.64 L302.63 396.8 L302.8 395.83 L302.97 394.75 L303.13 393.54 L303.3 392.21 L303.47 390.77 L303.63 389.22 L303.8 387.56 L303.97 385.79 L304.13 383.92 L304.3 381.95 L304.47 379.88 L304.63 377.73 L304.8 375.49 L304.97 373.16 L305.13 370.76 L305.3 368.29 L305.47 365.75 L305.63 363.15 L305.8 360.49 L305.97 357.78 L306.13 355.03 L306.3 352.23 L306.47 349.4 L306.63 346.54 L306.8 343.66 L306.97 340.76 L307.13 337.84 L307.3 334.92" fill="none" stroke="#2b54b0" stroke-width="1.6" stroke-linejoin="round" clip-path="url(#cc)"/>
<rect x="74" y="260.85" width="233.3" height="148.15" fill="none" stroke="#1c1c1c" stroke-width="2.0"/>
<path d="M190.65 409V405.7M190.65 260.85V264.15M74 270.51H77.3M307.3 270.51H304M74 334.93H77.3M307.3 334.93H304M74 399.34H77.3M307.3 399.34H304" stroke="#1c1c1c" stroke-width="2.0"/>
<text class="tk" transform="translate(68.3 276.65)" x="-18.39" style="letter-spacing:0.8px">20</text>
<text class="tk" transform="translate(68.3 341.07)" x="-8.49" style="letter-spacing:0.8px">0</text>
<text class="tk" transform="translate(68.3 405.48)" x="-24.68" style="letter-spacing:0.8px">-20</text>
<text class="tk" transform="translate(74 430.3)" x="-4.56">0</text>
<text class="tk" transform="translate(190.65 430.3)" x="-12.2" style="letter-spacing:0.8px">0.1</text>
<text class="tk" transform="translate(307.3 430.3)" x="-12.2" style="letter-spacing:0.8px">0.2</text>
<text class="lb xl" transform="translate(190.05 451.6) scale(1.04 1)" x="-25.41" style="letter-spacing:0.47px">Time/s</text>
<text class="lb yl" transform="translate(37.7 335.75) scale(1 1) rotate(-90)" x="-48.66">Amplitude/V</text>
<text class="lb" transform="translate(0.8 261.5)" x="-0.82" style="letter-spacing:0.3px">(c)</text>
<clipPath id="cd"><rect x="431.25" y="230.7" width="223.65" height="208.3"/></clipPath>
<path d="M431.25 334.85 L431.41 331.83 L431.57 328.81 L431.73 325.8 L431.89 322.81 L432.05 319.85 L432.21 316.92 L432.37 314.02 L432.53 311.16 L432.69 308.36 L432.85 305.6 L433.01 302.91 L433.17 300.28 L433.33 297.71 L433.49 295.23 L433.65 292.82 L433.81 290.5 L433.97 288.27 L434.13 286.13 L434.29 284.09 L434.44 282.15 L434.6 280.31 L434.76 278.59 L434.92 276.98 L435.08 275.49 L435.24 274.12 L435.4 272.87 L435.56 271.74 L435.72 270.74 L435.88 269.87 L436.04 269.13 L436.2 268.52 L436.36 268.05 L436.52 267.71 L436.68 267.51 L436.84 267.44 L437 267.51 L437.16 267.71 L437.32 268.05 L437.48 268.52 L437.64 269.13 L437.8 269.87 L437.96 270.74 L438.12 271.74 L438.28 272.87 L438.44 274.12 L438.6 275.49 L438.76 276.98 L438.92 278.59 L439.08 280.31 L439.24 282.15 L439.4 284.09 L439.56 286.13 L439.72 288.27 L439.88 290.5 L440.04 292.82 L440.2 295.23 L440.36 297.71 L440.52 300.28 L440.68 302.91 L440.83 305.6 L440.99 308.36 L441.15 311.16 L441.31 314.02 L441.47 316.92 L441.63 319.85 L441.79 322.81 L441.95 325.8 L442.11 328.81 L442.27 331.83 L442.43 334.85 L442.59 337.87 L442.75 340.89 L442.91 343.9 L443.07 346.89 L443.23 349.85 L443.39 352.78 L443.55 355.68 L443.71 358.54 L443.87 361.34 L444.03 364.1 L444.19 366.79 L444.35 369.42 L444.51 371.99 L444.67 374.47 L444.83 376.88 L444.99 379.2 L445.15 381.43 L445.31 383.57 L445.47 385.61 L445.63 387.55 L445.79 389.39 L445.95 391.11 L446.11 392.72 L446.27 394.21 L446.43 395.58 L446.59 396.83 L446.75 397.96 L446.91 398.96 L447.07 399.83 L447.23 400.57 L447.38 401.18 L447.54 401.65 L447.7 401.99 L447.86 402.19 L448.02 402.26 L448.18 402.19 L448.34 401.99 L448.5 401.65 L448.66 401.18 L448.82 400.57 L448.98 399.83 L449.14 398.96 L449.3 397.96 L449.46 396.83 L449.62 395.58 L449.78 394.21 L449.94 392.72 L450.1 391.11 L450.26 389.39 L450.42 387.55 L450.58 385.61 L450.74 383.57 L450.9 381.43 L451.06 379.2 L451.22 376.88 L451.38 374.47 L451.54 371.99 L451.7 369.42 L451.86 366.79 L452.02 364.1 L452.18 361.34 L452.34 358.54 L452.5 355.68 L452.66 352.78 L452.82 349.85 L452.98 346.89 L453.14 343.9 L453.3 340.89 L453.46 337.87 L453.62 334.85 L453.77 331.83 L453.93 328.81 L454.09 325.8 L454.25 322.81 L454.41 319.85 L454.57 316.92 L454.73 314.02 L454.89 311.16 L455.05 308.36 L455.21 305.6 L455.37 302.91 L455.53 300.28 L455.69 297.71 L455.85 295.23 L456.01 292.82 L456.17 290.5 L456.33 288.27 L456.49 286.13 L456.65 284.09 L456.81 282.15 L456.97 280.31 L457.13 278.59 L457.29 276.98 L457.45 275.49 L457.61 274.12 L457.77 272.87 L457.93 271.74 L458.09 270.74 L458.25 269.87 L458.41 269.13 L458.57 268.52 L458.73 268.05 L458.89 267.71 L459.05 267.51 L459.21 267.44 L459.37 267.51 L459.53 267.71 L459.69 268.05 L459.85 268.52 L460 269.13 L460.16 269.87 L460.32 270.74 L460.48 271.74 L460.64 272.87 L460.8 274.12 L460.96 275.49 L461.12 276.98 L461.28 278.59 L461.44 280.31 L461.6 282.15 L461.76 284.09 L461.92 286.13 L462.08 288.27 L462.24 290.5 L462.4 292.82 L462.56 295.23 L462.72 297.71 L462.88 300.28 L463.04 302.91 L463.2 305.6 L463.36 308.36 L463.52 311.16 L463.68 314.02 L463.84 316.92 L464 319.85 L464.16 322.81 L464.32 325.8 L464.48 328.81 L464.64 331.83 L464.8 334.85 L464.96 337.87 L465.12 340.89 L465.28 343.9 L465.44 346.89 L465.6 349.85 L465.76 352.78 L465.92 355.68 L466.08 358.54 L466.24 361.34 L466.39 364.1 L466.55 366.79 L466.71 369.42 L466.87 371.99 L467.03 374.47 L467.19 376.88 L467.35 379.2 L467.51 381.43 L467.67 383.57 L467.83 385.61 L467.99 387.55 L468.15 389.39 L468.31 391.11 L468.47 392.72 L468.63 394.21 L468.79 395.58 L468.95 396.83 L469.11 397.96 L469.27 398.96 L469.43 399.83 L469.59 400.57 L469.75 401.18 L469.91 401.65 L470.07 401.99 L470.23 402.19 L470.39 402.26 L470.55 402.19 L470.71 401.99 L470.87 401.65 L471.03 401.18 L471.19 400.57 L471.35 399.83 L471.51 398.96 L471.67 397.96 L471.83 396.83 L471.99 395.58 L472.15 394.21 L472.31 392.72 L472.47 391.11 L472.63 389.39 L472.78 387.55 L472.94 385.61 L473.1 383.57 L473.26 381.43 L473.42 379.2 L473.58 376.88 L473.74 374.47 L473.9 371.99 L474.06 369.42 L474.22 366.79 L474.38 364.1 L474.54 361.34 L474.7 358.54 L474.86 355.68 L475.02 352.78 L475.18 349.85 L475.34 346.89 L475.5 343.9 L475.66 340.89 L475.82 337.87 L475.98 334.85 L476.14 331.83 L476.3 328.81 L476.46 325.8 L476.62 322.81 L476.78 319.85 L476.94 316.92 L477.1 314.02 L477.26 311.16 L477.42 308.36 L477.58 305.6 L477.74 302.91 L477.9 300.28 L478.06 297.71 L478.22 295.23 L478.38 292.82 L478.54 290.5 L478.7 288.27 L478.86 286.13 L479.02 284.09 L479.18 282.15 L479.33 280.31 L479.49 278.59 L479.65 276.98 L479.81 275.49 L479.97 274.12 L480.13 272.87 L480.29 271.74 L480.45 270.74 L480.61 269.87 L480.77 269.13 L480.93 268.52 L481.09 268.05 L481.25 267.71 L481.41 267.51 L481.57 267.44 L481.73 267.51 L481.89 267.71 L482.05 268.05 L482.21 268.52 L482.37 269.13 L482.53 269.87 L482.69 270.74 L482.85 271.74 L483.01 272.87 L483.17 274.12 L483.33 275.49 L483.49 276.98 L483.65 278.59 L483.81 280.31 L483.97 282.15 L484.13 284.09 L484.29 286.13 L484.45 288.27 L484.61 290.5 L484.77 292.82 L484.93 295.23 L485.09 297.71 L485.25 300.28 L485.41 302.91 L485.56 305.6 L485.72 308.36 L485.88 311.16 L486.04 314.02 L486.2 316.92 L486.36 319.85 L486.52 322.81 L486.68 325.8 L486.84 328.81 L487 331.83 L487.16 334.85 L487.32 337.87 L487.48 340.89 L487.64 343.9 L487.8 346.89 L487.96 349.85 L488.12 352.78 L488.28 355.68 L488.44 358.54 L488.6 361.34 L488.76 364.1 L488.92 366.79 L489.08 369.42 L489.24 371.99 L489.4 374.47 L489.56 376.88 L489.72 379.2 L489.88 381.43 L490.04 383.57 L490.2 385.61 L490.36 387.55 L490.52 389.39 L490.68 391.11 L490.84 392.72 L491 394.21 L491.16 395.58 L491.32 396.83 L491.48 397.96 L491.64 398.96 L491.8 399.83 L491.95 400.57 L492.11 401.18 L492.27 401.65 L492.43 401.99 L492.59 402.19 L492.75 402.26 L492.91 402.19 L493.07 401.99 L493.23 401.65 L493.39 401.18 L493.55 400.57 L493.71 399.83 L493.87 398.96 L494.03 397.96 L494.19 396.83 L494.35 395.58 L494.51 394.21 L494.67 392.72 L494.83 391.11 L494.99 389.39 L495.15 387.55 L495.31 385.61 L495.47 383.57 L495.63 381.43 L495.79 379.2 L495.95 376.88 L496.11 374.47 L496.27 371.99 L496.43 369.42 L496.59 366.79 L496.75 364.1 L496.91 361.34 L497.07 358.54 L497.23 355.68 L497.39 352.78 L497.55 349.85 L497.71 346.89 L497.87 343.9 L498.03 340.89 L498.19 337.87 L498.34 334.85 L498.5 331.83 L498.66 328.81 L498.82 325.8 L498.98 322.81 L499.14 319.85 L499.3 316.92 L499.46 314.02 L499.62 311.16 L499.78 308.36 L499.94 305.6 L500.1 302.91 L500.26 300.28 L500.42 297.71 L500.58 295.23 L500.74 292.82 L500.9 290.5 L501.06 288.27 L501.22 286.13 L501.38 284.09 L501.54 282.15 L501.7 280.31 L501.86 278.59 L502.02 276.98 L502.18 275.49 L502.34 274.12 L502.5 272.87 L502.66 271.74 L502.82 270.74 L502.98 269.87 L503.14 269.13 L503.3 268.52 L503.46 268.05 L503.62 267.71 L503.78 267.51 L503.94 267.44 L504.1 267.51 L504.26 267.71 L504.42 268.05 L504.58 268.52 L504.74 269.13 L504.89 269.87 L505.05 270.74 L505.21 271.74 L505.37 272.87 L505.53 274.12 L505.69 275.49 L505.85 276.98 L506.01 278.59 L506.17 280.31 L506.33 282.15 L506.49 284.09 L506.65 286.13 L506.81 288.27 L506.97 290.5 L507.13 292.82 L507.29 295.23 L507.45 297.71 L507.61 300.28 L507.77 302.91 L507.93 305.6 L508.09 308.36 L508.25 311.16 L508.41 314.02 L508.57 316.92 L508.73 319.85 L508.89 322.81 L509.05 325.8 L509.21 328.81 L509.37 331.83 L509.53 334.85 L509.69 337.87 L509.85 340.89 L510.01 343.9 L510.17 346.89 L510.33 349.85 L510.49 352.78 L510.65 355.68 L510.81 358.54 L510.97 361.34 L511.12 364.1 L511.28 366.79 L511.44 369.42 L511.6 371.99 L511.76 374.47 L511.92 376.88 L512.08 379.2 L512.24 381.43 L512.4 383.57 L512.56 385.61 L512.72 387.55 L512.88 389.39 L513.04 391.11 L513.2 392.72 L513.36 394.21 L513.52 395.58 L513.68 396.83 L513.84 397.96 L514 398.96 L514.16 399.83 L514.32 400.57 L514.48 401.18 L514.64 401.65 L514.8 401.99 L514.96 402.19 L515.12 402.26 L515.28 402.19 L515.44 401.99 L515.6 401.65 L515.76 401.18 L515.92 400.57 L516.08 399.83 L516.24 398.96 L516.4 397.96 L516.56 396.83 L516.72 395.58 L516.88 394.21 L517.04 392.72 L517.2 391.11 L517.36 389.39 L517.51 387.55 L517.67 385.61 L517.83 383.57 L517.99 381.43 L518.15 379.2 L518.31 376.88 L518.47 374.47 L518.63 371.99 L518.79 369.42 L518.95 366.79 L519.11 364.1 L519.27 361.34 L519.43 358.54 L519.59 355.68 L519.75 352.78 L519.91 349.85 L520.07 346.89 L520.23 343.9 L520.39 340.89 L520.55 337.87 L520.71 334.85 L520.87 331.83 L521.03 328.81 L521.19 325.8 L521.35 322.81 L521.51 319.85 L521.67 316.92 L521.83 314.02 L521.99 311.16 L522.15 308.36 L522.31 305.6 L522.47 302.91 L522.63 300.28 L522.79 297.71 L522.95 295.23 L523.11 292.82 L523.27 290.5 L523.43 288.27 L523.59 286.13 L523.75 284.09 L523.9 282.15 L524.06 280.31 L524.22 278.59 L524.38 276.98 L524.54 275.49 L524.7 274.12 L524.86 272.87 L525.02 271.74 L525.18 270.74 L525.34 269.87 L525.5 269.13 L525.66 268.52 L525.82 268.05 L525.98 267.71 L526.14 267.51 L526.3 267.44 L526.46 267.51 L526.62 267.71 L526.78 268.05 L526.94 268.52 L527.1 269.13 L527.26 269.87 L527.42 270.74 L527.58 271.74 L527.74 272.87 L527.9 274.12 L528.06 275.49 L528.22 276.98 L528.38 278.59 L528.54 280.31 L528.7 282.15 L528.86 284.09 L529.02 286.13 L529.18 288.27 L529.34 290.5 L529.5 292.82 L529.66 295.23 L529.82 297.71 L529.98 300.28 L530.14 302.91 L530.29 305.6 L530.45 308.36 L530.61 311.16 L530.77 314.02 L530.93 316.92 L531.09 319.85 L531.25 322.81 L531.41 325.8 L531.57 328.81 L531.73 331.83 L531.89 334.85 L532.05 337.87 L532.21 340.89 L532.37 343.9 L532.53 346.89 L532.69 349.85 L532.85 352.78 L533.01 355.68 L533.17 358.54 L533.33 361.34 L533.49 364.1 L533.65 366.79 L533.81 369.42 L533.97 371.99 L534.13 374.47 L534.29 376.88 L534.45 379.2 L534.61 381.43 L534.77 383.57 L534.93 385.61 L535.09 387.55 L535.25 389.39 L535.41 391.11 L535.57 392.72 L535.73 394.21 L535.89 395.58 L536.05 396.83 L536.21 397.96 L536.37 398.96 L536.53 399.83 L536.68 400.57 L536.84 401.18 L537 401.65 L537.16 401.99 L537.32 402.19 L537.48 402.26 L537.64 402.19 L537.8 401.99 L537.96 401.65 L538.12 401.18 L538.28 400.57 L538.44 399.83 L538.6 398.96 L538.76 397.96 L538.92 396.83 L539.08 395.58 L539.24 394.21 L539.4 392.72 L539.56 391.11 L539.72 389.39 L539.88 387.55 L540.04 385.61 L540.2 383.57 L540.36 381.43 L540.52 379.2 L540.68 376.88 L540.84 374.47 L541 371.99 L541.16 369.42 L541.32 366.79 L541.48 364.1 L541.64 361.34 L541.8 358.54 L541.96 355.68 L542.12 352.78 L542.28 349.85 L542.44 346.89 L542.6 343.9 L542.76 340.89 L542.92 337.87 L543.08 334.85 L543.23 331.83 L543.39 328.81 L543.55 325.8 L543.71 322.81 L543.87 319.85 L544.03 316.92 L544.19 314.02 L544.35 311.16 L544.51 308.36 L544.67 305.6 L544.83 302.91 L544.99 300.28 L545.15 297.71 L545.31 295.23 L545.47 292.82 L545.63 290.5 L545.79 288.27 L545.95 286.13 L546.11 284.09 L546.27 282.15 L546.43 280.31 L546.59 278.59 L546.75 276.98 L546.91 275.49 L547.07 274.12 L547.23 272.87 L547.39 271.74 L547.55 270.74 L547.71 269.87 L547.87 269.13 L548.03 268.52 L548.19 268.05 L548.35 267.71 L548.51 267.51 L548.67 267.44 L548.83 267.51 L548.99 267.71 L549.15 268.05 L549.31 268.52 L549.47 269.13 L549.62 269.87 L549.78 270.74 L549.94 271.74 L550.1 272.87 L550.26 274.12 L550.42 275.49 L550.58 276.98 L550.74 278.59 L550.9 280.31 L551.06 282.15 L551.22 284.09 L551.38 286.13 L551.54 288.27 L551.7 290.5 L551.86 292.82 L552.02 295.23 L552.18 297.71 L552.34 300.28 L552.5 302.91 L552.66 305.6 L552.82 308.36 L552.98 311.16 L553.14 314.02 L553.3 316.92 L553.46 319.85 L553.62 322.81 L553.78 325.8 L553.94 328.81 L554.1 331.83 L554.26 334.85 L554.42 337.87 L554.58 340.89 L554.74 343.9 L554.9 346.89 L555.06 349.85 L555.22 352.78 L555.38 355.68 L555.54 358.54 L555.7 361.34 L555.86 364.1 L556.01 366.79 L556.17 369.42 L556.33 371.99 L556.49 374.47 L556.65 376.88 L556.81 379.2 L556.97 381.43 L557.13 383.57 L557.29 385.61 L557.45 387.55 L557.61 389.39 L557.77 391.11 L557.93 392.72 L558.09 394.21 L558.25 395.58 L558.41 396.83 L558.57 397.96 L558.73 398.96 L558.89 399.83 L559.05 400.57 L559.21 401.18 L559.37 401.65 L559.53 401.99 L559.69 402.19 L559.85 402.26 L560.01 402.19 L560.17 401.99 L560.33 401.65 L560.49 401.18 L560.65 400.57 L560.81 399.83 L560.97 398.96 L561.13 397.96 L561.29 396.83 L561.45 395.58 L561.61 394.21 L561.77 392.72 L561.93 391.11 L562.09 389.39 L562.25 387.55 L562.4 385.61 L562.56 383.57 L562.72 381.43 L562.88 379.2 L563.04 376.88 L563.2 374.47 L563.36 371.99 L563.52 369.42 L563.68 366.79 L563.84 364.1 L564 361.34 L564.16 358.54 L564.32 355.68 L564.48 352.78 L564.64 349.85 L564.8 346.89 L564.96 343.9 L565.12 340.89 L565.28 337.87 L565.44 334.85 L565.6 331.83 L565.76 328.81 L565.92 325.8 L566.08 322.81 L566.24 319.85 L566.4 316.92 L566.56 314.02 L566.72 311.16 L566.88 308.36 L567.04 305.6 L567.2 302.91 L567.36 300.28 L567.52 297.71 L567.68 295.23 L567.84 292.82 L568 290.5 L568.16 288.27 L568.32 286.13 L568.48 284.09 L568.63 282.15 L568.79 280.31 L568.95 278.59 L569.11 276.98 L569.27 275.49 L569.43 274.12 L569.59 272.87 L569.75 271.74 L569.91 270.74 L570.07 269.87 L570.23 269.13 L570.39 268.52 L570.55 268.05 L570.71 267.71 L570.87 267.51 L571.03 267.44 L571.19 267.51 L571.35 267.71 L571.51 268.05 L571.67 268.52 L571.83 269.13 L571.99 269.87 L572.15 270.74 L572.31 271.74 L572.47 272.87 L572.63 274.12 L572.79 275.49 L572.95 276.98 L573.11 278.59 L573.27 280.31 L573.43 282.15 L573.59 284.09 L573.75 286.13 L573.91 288.27 L574.07 290.5 L574.23 292.82 L574.39 295.23 L574.55 297.71 L574.71 300.28 L574.87 302.91 L575.02 305.6 L575.18 308.36 L575.34 311.16 L575.5 314.02 L575.66 316.92 L575.82 319.85 L575.98 322.81 L576.14 325.8 L576.3 328.81 L576.46 331.83 L576.62 334.85 L576.78 337.87 L576.94 340.89 L577.1 343.9 L577.26 346.89 L577.42 349.85 L577.58 352.78 L577.74 355.68 L577.9 358.54 L578.06 361.34 L578.22 364.1 L578.38 366.79 L578.54 369.42 L578.7 371.99 L578.86 374.47 L579.02 376.88 L579.18 379.2 L579.34 381.43 L579.5 383.57 L579.66 385.61 L579.82 387.55 L579.98 389.39 L580.14 391.11 L580.3 392.72 L580.46 394.21 L580.62 395.58 L580.78 396.83 L580.94 397.96 L581.1 398.96 L581.26 399.83 L581.41 400.57 L581.57 401.18 L581.73 401.65 L581.89 401.99 L582.05 402.19 L582.21 402.26 L582.37 402.19 L582.53 401.99 L582.69 401.65 L582.85 401.18 L583.01 400.57 L583.17 399.83 L583.33 398.96 L583.49 397.96 L583.65 396.83 L583.81 395.58 L583.97 394.21 L584.13 392.72 L584.29 391.11 L584.45 389.39 L584.61 387.55 L584.77 385.61 L584.93 383.57 L585.09 381.43 L585.25 379.2 L585.41 376.88 L585.57 374.47 L585.73 371.99 L585.89 369.42 L586.05 366.79 L586.21 364.1 L586.37 361.34 L586.53 358.54 L586.69 355.68 L586.85 352.78 L587.01 349.85 L587.17 346.89 L587.33 343.9 L587.49 340.89 L587.65 337.87 L587.81 334.85 L587.96 331.83 L588.12 328.81 L588.28 325.8 L588.44 322.81 L588.6 319.85 L588.76 316.92 L588.92 314.02 L589.08 311.16 L589.24 308.36 L589.4 305.6 L589.56 302.91 L589.72 300.28 L589.88 297.71 L590.04 295.23 L590.2 292.82 L590.36 290.5 L590.52 288.27 L590.68 286.13 L590.84 284.09 L591 282.15 L591.16 280.31 L591.32 278.59 L591.48 276.98 L591.64 275.49 L591.8 274.12 L591.96 272.87 L592.12 271.74 L592.28 270.74 L592.44 269.87 L592.6 269.13 L592.76 268.52 L592.92 268.05 L593.08 267.71 L593.24 267.51 L593.4 267.44 L593.56 267.51 L593.72 267.71 L593.88 268.05 L594.04 268.52 L594.19 269.13 L594.35 269.87 L594.51 270.74 L594.67 271.74 L594.83 272.87 L594.99 274.12 L595.15 275.49 L595.31 276.98 L595.47 278.59 L595.63 280.31 L595.79 282.15 L595.95 284.09 L596.11 286.13 L596.27 288.27 L596.43 290.5 L596.59 292.82 L596.75 295.23 L596.91 297.71 L597.07 300.28 L597.23 302.91 L597.39 305.6 L597.55 308.36 L597.71 311.16 L597.87 314.02 L598.03 316.92 L598.19 319.85 L598.35 322.81 L598.51 325.8 L598.67 328.81 L598.83 331.83 L598.99 334.85 L599.15 337.87 L599.31 340.89 L599.47 343.9 L599.63 346.89 L599.79 349.85 L599.95 352.78 L600.11 355.68 L600.27 358.54 L600.43 361.34 L600.59 364.1 L600.74 366.79 L600.9 369.42 L601.06 371.99 L601.22 374.47 L601.38 376.88 L601.54 379.2 L601.7 381.43 L601.86 383.57 L602.02 385.61 L602.18 387.55 L602.34 389.39 L602.5 391.11 L602.66 392.72 L602.82 394.21 L602.98 395.58 L603.14 396.83 L603.3 397.96 L603.46 398.96 L603.62 399.83 L603.78 400.57 L603.94 401.18 L604.1 401.65 L604.26 401.99 L604.42 402.19 L604.58 402.26 L604.74 402.19 L604.9 401.99 L605.06 401.65 L605.22 401.18 L605.38 400.57 L605.54 399.83 L605.7 398.96 L605.86 397.96 L606.02 396.83 L606.18 395.58 L606.34 394.21 L606.5 392.72 L606.66 391.11 L606.82 389.39 L606.97 387.55 L607.13 385.61 L607.29 383.57 L607.45 381.43 L607.61 379.2 L607.77 376.88 L607.93 374.47 L608.09 371.99 L608.25 369.42 L608.41 366.79 L608.57 364.1 L608.73 361.34 L608.89 358.54 L609.05 355.68 L609.21 352.78 L609.37 349.85 L609.53 346.89 L609.69 343.9 L609.85 340.89 L610.01 337.87 L610.17 334.85 L610.33 331.83 L610.49 328.81 L610.65 325.8 L610.81 322.81 L610.97 319.85 L611.13 316.92 L611.29 314.02 L611.45 311.16 L611.61 308.36 L611.77 305.6 L611.93 302.91 L612.09 300.28 L612.25 297.71 L612.41 295.23 L612.57 292.82 L612.73 290.5 L612.89 288.27 L613.05 286.13 L613.21 284.09 L613.37 282.15 L613.52 280.31 L613.68 278.59 L613.84 276.98 L614 275.49 L614.16 274.12 L614.32 272.87 L614.48 271.74 L614.64 270.74 L614.8 269.87 L614.96 269.13 L615.12 268.52 L615.28 268.05 L615.44 267.71 L615.6 267.51 L615.76 267.44 L615.92 267.51 L616.08 267.71 L616.24 268.05 L616.4 268.52 L616.56 269.13 L616.72 269.87 L616.88 270.74 L617.04 271.74 L617.2 272.87 L617.36 274.12 L617.52 275.49 L617.68 276.98 L617.84 278.59 L618 280.31 L618.16 282.15 L618.32 284.09 L618.48 286.13 L618.64 288.27 L618.8 290.5 L618.96 292.82 L619.12 295.23 L619.28 297.71 L619.44 300.28 L619.6 302.91 L619.75 305.6 L619.91 308.36 L620.07 311.16 L620.23 314.02 L620.39 316.92 L620.55 319.85 L620.71 322.81 L620.87 325.8 L621.03 328.81 L621.19 331.83 L621.35 334.85 L621.51 337.87 L621.67 340.89 L621.83 343.9 L621.99 346.89 L622.15 349.85 L622.31 352.78 L622.47 355.68 L622.63 358.54 L622.79 361.34 L622.95 364.1 L623.11 366.79 L623.27 369.42 L623.43 371.99 L623.59 374.47 L623.75 376.88 L623.91 379.2 L624.07 381.43 L624.23 383.57 L624.39 385.61 L624.55 387.55 L624.71 389.39 L624.87 391.11 L625.03 392.72 L625.19 394.21 L625.35 395.58 L625.51 396.83 L625.67 397.96 L625.83 398.96 L625.99 399.83 L626.14 400.57 L626.3 401.18 L626.46 401.65 L626.62 401.99 L626.78 402.19 L626.94 402.26 L627.1 402.19 L627.26 401.99 L627.42 401.65 L627.58 401.18 L627.74 400.57 L627.9 399.83 L628.06 398.96 L628.22 397.96 L628.38 396.83 L628.54 395.58 L628.7 394.21 L628.86 392.72 L629.02 391.11 L629.18 389.39 L629.34 387.55 L629.5 385.61 L629.66 383.57 L629.82 381.43 L629.98 379.2 L630.14 376.88 L630.3 374.47 L630.46 371.99 L630.62 369.42 L630.78 366.79 L630.94 364.1 L631.1 361.34 L631.26 358.54 L631.42 355.68 L631.58 352.78 L631.74 349.85 L631.9 346.89 L632.06 343.9 L632.22 340.89 L632.38 337.87 L632.53 334.85 L632.69 331.83 L632.85 328.81 L633.01 325.8 L633.17 322.81 L633.33 319.85 L633.49 316.92 L633.65 314.02 L633.81 311.16 L633.97 308.36 L634.13 305.6 L634.29 302.91 L634.45 300.28 L634.61 297.71 L634.77 295.23 L634.93 292.82 L635.09 290.5 L635.25 288.27 L635.41 286.13 L635.57 284.09 L635.73 282.15 L635.89 280.31 L636.05 278.59 L636.21 276.98 L636.37 275.49 L636.53 274.12 L636.69 272.87 L636.85 271.74 L637.01 270.74 L637.17 269.87 L637.33 269.13 L637.49 268.52 L637.65 268.05 L637.81 267.71 L637.97 267.51 L638.13 267.44 L638.29 267.51 L638.45 267.71 L638.61 268.05 L638.77 268.52 L638.92 269.13 L639.08 269.87 L639.24 270.74 L639.4 271.74 L639.56 272.87 L639.72 274.12 L639.88 275.49 L640.04 276.98 L640.2 278.59 L640.36 280.31 L640.52 282.15 L640.68 284.09 L640.84 286.13 L641 288.27 L641.16 290.5 L641.32 292.82 L641.48 295.23 L641.64 297.71 L641.8 300.28 L641.96 302.91 L642.12 305.6 L642.28 308.36 L642.44 311.16 L642.6 314.02 L642.76 316.92 L642.92 319.85 L643.08 322.81 L643.24 325.8 L643.4 328.81 L643.56 331.83 L643.72 334.85 L643.88 337.87 L644.04 340.89 L644.2 343.9 L644.36 346.89 L644.52 349.85 L644.68 352.78 L644.84 355.68 L645 358.54 L645.16 361.34 L645.31 364.1 L645.47 366.79 L645.63 369.42 L645.79 371.99 L645.95 374.47 L646.11 376.88 L646.27 379.2 L646.43 381.43 L646.59 383.57 L646.75 385.61 L646.91 387.55 L647.07 389.39 L647.23 391.11 L647.39 392.72 L647.55 394.21 L647.71 395.58 L647.87 396.83 L648.03 397.96 L648.19 398.96 L648.35 399.83 L648.51 400.57 L648.67 401.18 L648.83 401.65 L648.99 401.99 L649.15 402.19 L649.31 402.26 L649.47 402.19 L649.63 401.99 L649.79 401.65 L649.95 401.18 L650.11 400.57 L650.27 399.83 L650.43 398.96 L650.59 397.96 L650.75 396.83 L650.91 395.58 L651.07 394.21 L651.23 392.72 L651.39 391.11 L651.55 389.39 L651.7 387.55 L651.86 385.61 L652.02 383.57 L652.18 381.43 L652.34 379.2 L652.5 376.88 L652.66 374.47 L652.82 371.99 L652.98 369.42 L653.14 366.79 L653.3 364.1 L653.46 361.34 L653.62 358.54 L653.78 355.68 L653.94 352.78 L654.1 349.85 L654.26 346.89 L654.42 343.9 L654.58 340.89 L654.74 337.87 L654.9 334.85" fill="none" stroke="#2b54b0" stroke-width="1.6" stroke-linejoin="round" clip-path="url(#cd)"/>
<rect x="431.25" y="260.7" width="223.65" height="148.3" fill="none" stroke="#1c1c1c" stroke-width="2.0"/>
<path d="M543.08 409V405.7M543.08 260.7V264M431.25 267.44H434.55M654.9 267.44H651.6M431.25 334.85H434.55M654.9 334.85H651.6M431.25 402.26H434.55M654.9 402.26H651.6" stroke="#1c1c1c" stroke-width="2.0"/>
<text class="tk" transform="translate(425.55 273.58)" x="-28.33" style="letter-spacing:0.8px">200</text>
<text class="tk" transform="translate(425.55 340.99)" x="-8.49" style="letter-spacing:0.8px">0</text>
<text class="tk" transform="translate(425.55 408.4)" x="-34.58" style="letter-spacing:0.8px">-200</text>
<text class="tk" transform="translate(431.25 430.3)" x="-4.56">0</text>
<text class="tk" transform="translate(543.08 430.3)" x="-12.2" style="letter-spacing:0.8px">0.1</text>
<text class="tk" transform="translate(654.9 430.3)" x="-12.2" style="letter-spacing:0.8px">0.2</text>
<text class="lb xl" transform="translate(542.48 451.6) scale(1.04 1)" x="-25.41" style="letter-spacing:0.47px">Time/s</text>
<text class="lb yl" transform="translate(385.5 335.7) scale(1 1) rotate(-90)" x="-48.66">Amplitude/V</text>
<text class="lb" transform="translate(346.9 261.4)" x="-0.82" style="letter-spacing:0.3px">(d)</text>
<clipPath id="ce"><rect x="75.6" y="464" width="233.3" height="214.4"/></clipPath>
<path d="M75.6 571 L75.85 571 L76.1 571 L76.35 571 L76.6 571 L76.85 571 L77.1 571 L77.35 571 L77.6 571 L77.85 571 L78.1 571 L78.35 571 L78.6 571 L78.85 571 L79.1 571 L79.35 571 L79.6 571 L79.85 571 L80.1 571 L80.35 571 L80.6 571 L80.85 571 L81.1 571 L81.35 571 L81.6 571 L81.85 571 L82.1 571 L82.35 571 L82.6 571 L82.85 571 L83.1 571 L83.35 571 L83.6 571 L83.85 571 L84.1 571 L84.35 571 L84.6 571 L84.85 571 L85.1 571 L85.35 570.96 L85.6 570.9 L85.85 570.8 L86.1 570.68 L86.35 570.53 L86.6 570.37 L86.85 570.18 L87.1 569.99 L87.35 569.78 L87.6 569.56 L87.85 569.34 L88.1 569.12 L88.35 568.9 L88.6 568.68 L88.85 568.47 L89.1 568.28 L89.35 568.1 L89.35 568.1 L89.5 608.9 L89.8 567.82 L89.85 567.79 L90.1 567.68 L90.35 567.59 L90.6 567.53 L90.85 567.5 L91.1 567.52 L91.35 567.59 L91.6 567.71 L91.85 567.89 L92.1 568.1 L92.35 568.36 L92.6 568.65 L92.85 568.98 L93.1 569.34 L93.35 569.72 L93.6 570.12 L93.85 570.55 L94.1 570.99 L94.35 571.43 L94.6 571.89 L94.85 572.35 L95.1 572.81 L95.35 573.27 L95.6 573.71 L95.85 574.15 L96.1 574.58 L96.35 574.98 L96.6 575.36 L96.85 575.72 L97.1 576.05 L97.35 576.34 L97.6 576.6 L97.85 576.81 L98.1 576.99 L98.35 577.11 L98.6 577.18 L98.85 577.2 L99.1 577.17 L99.35 577.11 L99.25 577.14 L99.4 502.6 L99.7 576.95 L99.85 576.87 L100.1 576.71 L100.35 576.51 L100.6 576.29 L100.85 576.05 L101.1 575.78 L101.35 575.5 L101.6 575.2 L101.85 574.88 L102.1 574.56 L102.35 574.22 L102.6 573.87 L102.85 573.52 L103.1 573.17 L103.35 572.82 L103.6 572.47 L103.85 572.12 L104.1 571.78 L104.35 571.45 L104.6 571.13 L104.85 570.82 L105.1 570.53 L105.35 570.25 L105.6 570 L105.85 569.77 L106.1 569.57 L106.35 569.39 L106.6 569.25 L106.85 569.13 L107.1 569.05 L107.35 569.01 L107.6 569 L107.85 569.02 L108.1 569.06 L108.35 569.12 L108.6 569.19 L108.85 569.27 L109.1 569.35 L109.35 569.43 L109.6 569.52 L109.85 569.6 L110.1 569.67 L110.35 569.73 L110.6 569.77 L110.85 569.8 L111.1 569.8 L111.35 569.78 L111.6 569.75 L111.85 569.7 L112.1 569.63 L112.35 569.56 L112.6 569.47 L112.85 569.38 L113.1 569.28 L113.35 569.18 L113.6 569.07 L113.65 569.05 L113.8 599.3 L114.1 568.86 L114.35 568.76 L114.6 568.66 L114.85 568.58 L115.1 568.5 L115.35 568.43 L115.6 568.37 L115.85 568.33 L116.1 568.31 L116.35 568.3 L116.6 568.31 L116.85 568.33 L117.1 568.35 L117.35 568.39 L117.6 568.44 L117.85 568.5 L118.1 568.56 L118.35 568.63 L118.6 568.71 L118.85 568.8 L119.1 568.89 L119.35 568.99 L119.6 569.1 L119.85 569.21 L120.1 569.32 L120.35 569.44 L120.6 569.57 L120.85 569.69 L121.1 569.82 L121.35 569.95 L121.6 570.09 L121.85 570.22 L122.1 570.36 L122.35 570.5 L122.6 570.63 L122.85 570.77 L123.1 570.91 L123.35 571.04 L123.6 571.17 L123.85 571.31 L124.1 571.43 L124.35 571.56 L124.6 571.68 L124.85 571.8 L125.1 571.91 L125.35 572.02 L125.6 572.13 L125.85 572.23 L126.1 572.32 L126.35 572.4 L126.6 572.48 L126.85 572.55 L127.1 572.62 L127.35 572.67 L127.6 572.72 L127.85 572.75 L127.85 572.75 L128 527 L128.3 572.79 L128.35 572.79 L128.6 572.8 L128.85 572.8 L129.1 572.78 L129.35 572.76 L129.6 572.73 L129.85 572.69 L130.1 572.64 L130.35 572.59 L130.6 572.52 L130.85 572.46 L131.1 572.38 L131.35 572.3 L131.6 572.21 L131.85 572.12 L132.1 572.03 L132.35 571.92 L132.6 571.82 L132.85 571.71 L133.1 571.6 L133.35 571.48 L133.6 571.37 L133.85 571.25 L134.1 571.12 L134.35 571 L134.6 570.88 L134.85 570.75 L135.1 570.63 L135.35 570.5 L135.6 570.37 L135.85 570.25 L136.1 570.12 L136.35 570 L136.6 569.88 L136.85 569.76 L137.1 569.65 L137.35 569.53 L137.6 569.42 L137.85 569.32 L138.1 569.21 L138.35 569.12 L138.6 569.02 L138.85 568.93 L139.1 568.85 L139.35 568.77 L139.6 568.7 L139.85 568.64 L140.1 568.58 L140.35 568.53 L140.6 568.49 L140.85 568.45 L141.1 568.43 L141.35 568.41 L141.6 568.4 L141.85 568.4 L141.85 568.4 L142 603 L142.3 568.44 L142.35 568.44 L142.6 568.48 L142.85 568.53 L143.1 568.59 L143.35 568.67 L143.6 568.75 L143.85 568.83 L144.1 568.93 L144.35 569.04 L144.6 569.15 L144.85 569.26 L145.1 569.39 L145.35 569.51 L145.6 569.65 L145.85 569.78 L146.1 569.92 L146.35 570.06 L146.6 570.2 L146.85 570.34 L147.1 570.49 L147.35 570.63 L147.6 570.77 L147.85 570.91 L148.1 571.05 L148.35 571.18 L148.6 571.31 L148.85 571.44 L149.1 571.56 L149.35 571.68 L149.6 571.79 L149.85 571.89 L150.1 571.98 L150.35 572.07 L150.6 572.15 L150.85 572.22 L151.1 572.28 L151.35 572.33 L151.6 572.36 L151.85 572.39 L152.1 572.4 L152.15 572.4 L152.3 535.7 L152.6 572.39 L152.85 572.38 L153.1 572.36 L153.35 572.33 L153.6 572.3 L153.85 572.26 L154.1 572.22 L154.35 572.18 L154.6 572.13 L154.85 572.07 L155.1 572.01 L155.35 571.95 L155.6 571.88 L155.85 571.81 L156.1 571.74 L156.35 571.66 L156.6 571.59 L156.85 571.51 L157.1 571.42 L157.35 571.34 L157.6 571.25 L157.85 571.17 L158.1 571.08 L158.35 570.99 L158.6 570.9 L158.85 570.81 L159.1 570.73 L159.35 570.64 L159.6 570.55 L159.85 570.46 L160.1 570.38 L160.35 570.29 L160.6 570.21 L160.85 570.13 L161.1 570.05 L161.35 569.98 L161.6 569.9 L161.85 569.83 L162.1 569.76 L162.35 569.7 L162.6 569.64 L162.85 569.58 L163.1 569.53 L163.35 569.49 L163.6 569.44 L163.85 569.41 L164.1 569.37 L164.35 569.35 L164.6 569.33 L164.85 569.31 L165.1 569.3 L165.35 569.3 L165.6 569.3 L165.85 569.31 L166.1 569.33 L166.35 569.35 L166.35 569.35 L166.5 590.6 L166.8 569.4 L166.85 569.4 L167.1 569.44 L167.35 569.48 L167.6 569.52 L167.85 569.56 L168.1 569.61 L168.35 569.66 L168.6 569.71 L168.85 569.77 L169.1 569.82 L169.35 569.88 L169.6 569.94 L169.85 570 L170.1 570.06 L170.35 570.12 L170.6 570.18 L170.85 570.24 L171.1 570.3 L171.35 570.36 L171.6 570.41 L171.85 570.47 L172.1 570.52 L172.35 570.58 L172.6 570.64 L172.85 570.71 L173.1 570.78 L173.35 570.85 L173.6 570.93 L173.85 571 L174.1 571.07 L174.35 571.14 L174.6 571.21 L174.85 571.28 L175.1 571.34 L175.35 571.39 L175.6 571.44 L175.85 571.48 L176.1 571.51 L176.35 571.54 L176.6 571.57 L176.85 571.6 L177.1 571.63 L177.35 571.66 L177.6 571.69 L177.85 571.71 L178.1 571.74 L178.35 571.76 L178.6 571.79 L178.85 571.81 L179.1 571.83 L179.35 571.84 L179.6 571.86 L179.85 571.87 L180.1 571.88 L180.35 571.89 L180.6 571.9 L180.85 571.9 L181.1 571.9 L181.35 571.86 L181.6 571.79 L181.85 571.69 L182.1 571.56 L182.35 571.4 L182.6 571.21 L182.85 571.01 L183.1 570.78 L183.35 570.54 L183.6 570.29 L183.85 570.02 L184.1 569.75 L184.35 569.47 L184.6 569.19 L184.85 568.91 L185.1 568.64 L185.35 568.37 L185.6 568.11 L185.85 567.86 L186.1 567.62 L186.35 567.41 L186.6 567.21 L186.85 567.03 L187.1 566.89 L187.35 566.76 L187.6 566.68 L187.85 566.62 L188.1 566.6 L188.35 566.61 L188.45 566.62 L188.6 636.3 L188.9 566.7 L189.1 566.75 L189.35 566.83 L189.6 566.93 L189.85 567.04 L190.1 567.16 L190.35 567.29 L190.6 567.44 L190.85 567.59 L191.1 567.75 L191.35 567.92 L191.6 568.1 L191.85 568.28 L192.1 568.46 L192.35 568.65 L192.6 568.84 L192.85 569.04 L193.1 569.23 L193.35 569.42 L193.6 569.61 L193.85 569.79 L194.1 569.97 L194.35 570.15 L194.6 570.32 L194.85 570.48 L195.1 570.63 L195.35 570.77 L195.6 570.91 L195.85 571.03 L196.1 571.14 L196.35 571.23 L196.6 571.31 L196.85 571.37 L197.1 571.42 L197.35 571.46 L197.6 571.5 L197.85 571.55 L198.1 571.59 L198.35 571.63 L198.6 571.66 L198.85 571.7 L199.1 571.73 L199.35 571.76 L199.6 571.79 L199.85 571.82 L200.1 571.84 L200.35 571.86 L200.6 571.88 L200.85 571.89 L201.1 571.9 L201.35 571.9 L201.6 571.89 L201.55 571.9 L201.7 550.6 L202 571.84 L202.1 571.82 L202.35 571.75 L202.6 571.67 L202.85 571.57 L203.1 571.46 L203.35 571.33 L203.6 571.19 L203.85 571.04 L204.1 570.88 L204.35 570.71 L204.6 570.53 L204.85 570.34 L205.1 570.14 L205.35 569.95 L205.6 569.74 L205.85 569.54 L206.1 569.33 L206.35 569.13 L206.6 568.92 L206.85 568.72 L207.1 568.51 L207.35 568.32 L207.6 568.12 L207.85 567.94 L208.1 567.76 L208.35 567.59 L208.6 567.43 L208.85 567.28 L209.1 567.14 L209.35 567.02 L209.6 566.91 L209.85 566.81 L210.1 566.73 L210.35 566.67 L210.6 566.63 L210.85 566.6 L211.1 566.6 L211.35 566.63 L211.6 566.69 L211.85 566.77 L211.85 566.77 L212 635.8 L212.3 566.99 L212.35 567.02 L212.6 567.18 L212.85 567.36 L213.1 567.56 L213.35 567.78 L213.6 568.01 L213.85 568.25 L214.1 568.51 L214.35 568.78 L214.6 569.05 L214.85 569.34 L215.1 569.63 L215.35 569.92 L215.6 570.21 L215.85 570.5 L216.1 570.79 L216.35 571.08 L216.6 571.36 L216.85 571.63 L217.1 571.89 L217.35 572.15 L217.6 572.39 L217.85 572.61 L218.1 572.82 L218.35 573.01 L218.6 573.18 L218.85 573.33 L219.1 573.46 L219.35 573.56 L219.6 573.64 L219.85 573.68 L219.95 573.69 L220.1 534.6 L220.4 573.68 L220.6 573.65 L220.85 573.59 L221.1 573.51 L221.35 573.42 L221.6 573.31 L221.85 573.18 L222.1 573.04 L222.35 572.9 L222.6 572.74 L222.85 572.58 L223.1 572.42 L223.35 572.26 L223.6 572.1 L223.85 571.94 L224.1 571.78 L224.35 571.64 L224.6 571.5 L224.85 571.37 L225.1 571.26 L225.35 571.16 L225.6 571.08 L225.85 571.03 L226.1 570.99 L226.35 570.95 L226.6 570.92 L226.85 570.88 L227.1 570.85 L227.35 570.82 L227.6 570.79 L227.85 570.76 L228.1 570.73 L228.35 570.71 L228.6 570.68 L228.85 570.66 L229.1 570.64 L229.35 570.61 L229.6 570.59 L229.85 570.58 L230.1 570.56 L230.35 570.55 L230.6 570.53 L230.85 570.52 L231.1 570.51 L231.35 570.51 L231.6 570.5 L231.85 570.5 L232.1 570.5 L232.35 570.5 L232.6 570.51 L232.85 570.52 L233.1 570.53 L233.35 570.55 L233.6 570.57 L233.85 570.59 L234.1 570.62 L234.35 570.65 L234.6 570.68 L234.85 570.71 L235.1 570.74 L235.35 570.78 L235.6 570.81 L235.85 570.85 L236.1 570.89 L236.35 570.93 L236.6 570.97 L236.85 571.01 L237.1 571.05 L237.35 571.09 L237.6 571.13 L237.85 571.18 L238.1 571.22 L238.35 571.27 L238.6 571.33 L238.85 571.4 L239.1 571.48 L239.35 571.56 L239.6 571.65 L239.85 571.73 L240.1 571.82 L240.35 571.91 L240.6 572 L240.85 572.08 L241.1 572.15 L241.35 572.22 L241.6 572.28 L241.85 572.33 L242.1 572.37 L242.35 572.39 L242.25 572.38 L242.4 543 L242.7 572.4 L242.85 572.4 L243.1 572.38 L243.35 572.37 L243.6 572.34 L243.85 572.31 L244.1 572.27 L244.35 572.22 L244.6 572.17 L244.85 572.11 L245.1 572.04 L245.35 571.98 L245.6 571.9 L245.85 571.82 L246.1 571.74 L246.35 571.65 L246.6 571.55 L246.85 571.45 L247.1 571.35 L247.35 571.25 L247.6 571.14 L247.85 571.03 L248.1 570.91 L248.35 570.79 L248.6 570.67 L248.85 570.55 L249.1 570.43 L249.35 570.3 L249.6 570.18 L249.85 570.05 L250.1 569.92 L250.35 569.79 L250.6 569.66 L250.85 569.53 L251.1 569.4 L251.35 569.26 L251.6 569.13 L251.85 569 L252.1 568.88 L252.35 568.75 L252.6 568.62 L252.85 568.5 L253.1 568.37 L253.35 568.25 L253.6 568.13 L253.85 568.02 L254.1 567.91 L254.35 567.8 L254.6 567.69 L254.85 567.59 L255.1 567.49 L255.35 567.39 L255.6 567.3 L255.85 567.21 L256.1 567.13 L256.35 567.05 L256.6 566.98 L256.85 566.92 L257.1 566.85 L257.35 566.8 L257.6 566.75 L257.85 566.71 L258.1 566.67 L258.35 566.64 L258.6 566.62 L258.65 566.62 L258.8 642.7 L259.1 566.6 L259.35 566.61 L259.6 566.65 L259.85 566.72 L260.1 566.82 L260.35 566.96 L260.6 567.12 L260.85 567.3 L261.1 567.5 L261.35 567.73 L261.6 567.97 L261.85 568.22 L262.1 568.49 L262.35 568.77 L262.6 569.06 L262.85 569.35 L263.1 569.64 L263.35 569.94 L263.6 570.23 L263.85 570.52 L264.1 570.8 L264.35 571.07 L264.6 571.33 L264.85 571.58 L265.1 571.81 L265.35 572.02 L265.6 572.21 L265.85 572.38 L266.1 572.53 L266.35 572.64 L266.6 572.73 L266.85 572.78 L267.1 572.8 L267.35 572.78 L267.6 572.71 L267.85 572.6 L268.1 572.46 L268.35 572.29 L268.6 572.09 L268.85 571.88 L269.1 571.65 L269.35 571.4 L269.6 571.15 L269.85 570.9 L270.1 570.65 L270.35 570.41 L270.6 570.18 L270.85 569.96 L271.1 569.77 L271.35 569.61 L271.6 569.47 L271.85 569.37 L272.1 569.32 L272.35 569.3 L272.6 569.32 L272.85 569.38 L273.1 569.46 L273.35 569.57 L273.6 569.69 L273.85 569.84 L274.1 570 L274.35 570.17 L274.6 570.34 L274.85 570.53 L275.1 570.71 L275.35 570.89 L275.6 571.07 L275.85 571.24 L276.1 571.39 L276.35 571.53 L276.6 571.66 L276.85 571.76 L277.1 571.83 L277.35 571.88 L277.6 571.9 L277.85 571.88 L278.1 571.81 L278.35 571.71 L278.6 571.57 L278.85 571.41 L279.1 571.22 L279.35 571.01 L279.6 570.78 L279.85 570.54 L280.1 570.3 L280.35 570.05 L280.6 569.81 L280.85 569.57 L281.1 569.34 L281.35 569.12 L281.6 568.93 L281.85 568.76 L282.1 568.62 L282.35 568.51 L282.6 568.43 L282.85 568.4 L282.85 568.4 L283 589.4 L283.3 568.43 L283.35 568.44 L283.6 568.5 L283.85 568.59 L284.1 568.69 L284.35 568.82 L284.6 568.96 L284.85 569.12 L285.1 569.3 L285.35 569.49 L285.6 569.69 L285.85 569.9 L286.1 570.12 L286.35 570.35 L286.6 570.58 L286.85 570.81 L287.1 571.05 L287.35 571.29 L287.6 571.52 L287.85 571.75 L288.1 571.98 L288.35 572.2 L288.6 572.41 L288.85 572.61 L289.1 572.8 L289.35 572.98 L289.6 573.14 L289.85 573.28 L290.1 573.41 L290.35 573.51 L290.6 573.6 L290.85 573.66 L291.1 573.69 L291.15 573.69 L291.3 527.7 L291.6 573.69 L291.85 573.67 L292.1 573.64 L292.35 573.6 L292.6 573.55 L292.85 573.5 L293.1 573.43 L293.35 573.35 L293.6 573.27 L293.85 573.18 L294.1 573.09 L294.35 572.99 L294.6 572.88 L294.85 572.77 L295.1 572.66 L295.35 572.54 L295.6 572.42 L295.85 572.3 L296.1 572.18 L296.35 572.05 L296.6 571.93 L296.85 571.8 L297.1 571.67 L297.35 571.55 L297.6 571.43 L297.85 571.3 L298.1 571.19 L298.35 571.07 L298.6 570.96 L298.85 570.85 L299.1 570.75 L299.35 570.65 L299.6 570.56 L299.85 570.48 L300.1 570.4 L300.35 570.33 L300.6 570.27 L300.85 570.22 L301.1 570.17 L301.35 570.14 L301.6 570.11 L301.85 570.1 L302.1 570.1 L302.35 570.1 L302.6 570.1 L302.85 570.11 L303.1 570.11 L303.35 570.12 L303.6 570.13 L303.85 570.14 L304.1 570.16 L304.35 570.17 L304.6 570.19 L304.85 570.21 L305.1 570.23 L305.35 570.26 L305.6 570.29 L305.85 570.32 L306.1 570.35 L306.35 570.39 L306.6 570.43 L306.85 570.47 L307.1 570.52 L307.35 570.57 L307.6 570.63 L307.85 570.68 L308.1 570.75 L308.35 570.81 L308.6 570.88 L308.85 570.95 L308.9 570.97" fill="none" stroke="#2b54b0" stroke-width="1.6" stroke-linejoin="round" clip-path="url(#ce)"/>
<rect x="75.6" y="494" width="233.3" height="154.4" fill="none" stroke="#1c1c1c" stroke-width="2.0"/>
<path d="M192.25 648.4V645.1M192.25 494V497.3M75.6 525.79H78.9M308.9 525.79H305.6M75.6 571.2H78.9M308.9 571.2H305.6M75.6 616.61H78.9M308.9 616.61H305.6" stroke="#1c1c1c" stroke-width="2.0"/>
<text class="tk" transform="translate(69.9 532.18) scale(1 1.04)" x="-18.39" style="letter-spacing:0.8px">10</text>
<text class="tk" transform="translate(69.9 577.59) scale(1 1.04)" x="-8.49" style="letter-spacing:0.8px">0</text>
<text class="tk" transform="translate(69.9 623.01) scale(1 1.04)" x="-24.68" style="letter-spacing:0.8px">-10</text>
<text class="tk" transform="translate(75.6 670.3) scale(1 1.04)" x="-4.56">0</text>
<text class="tk" transform="translate(192.25 670.3) scale(1 1.04)" x="-12.2" style="letter-spacing:0.8px">0.1</text>
<text class="tk" transform="translate(308.9 670.3) scale(1 1.04)" x="-12.2" style="letter-spacing:0.8px">0.2</text>
<text class="lb xl" transform="translate(191.65 692.3) scale(1.04 1.04)" x="-25.41" style="letter-spacing:0.47px">Time/s</text>
<text class="lb yl" transform="translate(39.5 571.45) scale(1 1.04) rotate(-90)" x="-48.66">Amplitude/V</text>
<text class="lb" transform="translate(2.1 493.55)" x="-0.82" style="letter-spacing:0.3px">(e)</text>
<clipPath id="cf"><rect x="420" y="464" width="233.4" height="215.8"/></clipPath>
<path d="M420 568.4 L420.25 569.06 L420.5 569.72 L420.75 570.35 L421 570.97 L421.25 571.57 L421.5 572.14 L421.75 572.67 L422 573.17 L422.25 573.63 L422.5 574.05 L422.75 574.42 L423 574.74 L423.25 575 L423.5 575.19 L423.75 575.33 L424 575.39 L424.25 575.39 L424.5 575.35 L424.75 575.27 L425 575.15 L425.25 575 L425.5 574.83 L425.75 574.63 L426 574.41 L426.25 574.18 L426.5 573.93 L426.75 573.68 L427 573.41 L427.25 573.15 L427.5 572.88 L427.75 572.62 L428 572.37 L428.25 572.13 L428.5 571.9 L428.75 571.69 L429 571.5 L429.25 571.34 L429.5 571.2 L429.75 571.1 L430 571.03 L430.25 571 L430.5 571.03 L430.75 571.15 L431 571.33 L431.25 571.58 L431.5 571.87 L431.75 572.19 L432 572.53 L432.25 572.87 L432.5 573.2 L432.75 573.51 L433 573.77 L433.25 573.99 L433.5 574.13 L433.75 574.2 L434 574.19 L434.25 574.13 L434.15 574.16 L434.3 533 L434.6 573.99 L434.75 573.91 L435 573.74 L435.25 573.55 L435.5 573.32 L435.75 573.07 L436 572.8 L436.25 572.5 L436.5 572.18 L436.75 571.85 L437 571.5 L437.25 571.15 L437.5 570.78 L437.75 570.41 L438 570.03 L438.25 569.65 L438.5 569.27 L438.75 568.9 L439 568.53 L439.25 568.17 L439.5 567.82 L439.75 567.48 L440 567.16 L440.25 566.86 L440.5 566.58 L440.75 566.32 L441 566.09 L441.25 565.89 L441.5 565.72 L441.75 565.58 L442 565.48 L442.25 565.42 L442.5 565.4 L442.75 565.44 L443 565.54 L443.25 565.7 L443.5 565.9 L443.75 566.14 L444 566.4 L444.25 566.68 L444.15 566.57 L444.3 640.9 L444.6 567.08 L444.75 567.24 L445 567.5 L445.25 567.77 L445.5 568.08 L445.75 568.42 L446 568.79 L446.25 569.19 L446.5 569.6 L446.75 570.02 L447 570.46 L447.25 570.89 L447.5 571.33 L447.75 571.76 L448 572.17 L448.25 572.57 L448.5 572.94 L448.75 573.29 L449 573.6 L449.25 573.87 L449.5 574.11 L449.75 574.29 L450 574.42 L450.25 574.49 L450.5 574.5 L450.75 574.49 L451 574.46 L451.25 574.42 L451.5 574.37 L451.75 574.3 L452 574.23 L452.25 574.15 L452.5 574.05 L452.75 573.95 L453 573.85 L453.25 573.74 L453.5 573.62 L453.75 573.49 L454 573.37 L454.25 573.24 L454.5 573.11 L454.75 572.98 L455 572.84 L455.25 572.71 L455.5 572.58 L455.75 572.46 L456 572.33 L456.25 572.21 L456.5 572.1 L456.75 571.99 L457 571.88 L457.25 571.79 L457.5 571.7 L457.75 571.62 L458 571.56 L458.25 571.5 L458.5 571.46 L458.75 571.42 L458.65 571.43 L458.8 541.4 L459.1 571.4 L459.25 571.4 L459.5 571.4 L459.75 571.4 L460 571.4 L460.25 571.41 L460.5 571.41 L460.75 571.41 L461 571.42 L461.25 571.42 L461.5 571.43 L461.75 571.43 L462 571.44 L462.25 571.44 L462.5 571.45 L462.75 571.45 L463 571.46 L463.25 571.46 L463.5 571.47 L463.75 571.47 L464 571.48 L464.25 571.48 L464.5 571.49 L464.75 571.49 L465 571.49 L465.25 571.5 L465.5 571.5 L465.75 571.5 L466 571.5 L466.25 571.5 L466.5 571.49 L466.75 571.48 L467 571.47 L467.25 571.45 L467.5 571.43 L467.75 571.41 L468 571.39 L468.25 571.36 L468.5 571.34 L468.75 571.31 L469 571.28 L469.25 571.25 L469.5 571.22 L469.75 571.19 L470 571.16 L470.25 571.14 L470.5 571.11 L470.75 571.09 L471 571.07 L471.25 571.05 L471.5 571.03 L471.75 571.02 L472 571.01 L472.25 571 L472.35 571 L472.5 616.9 L472.8 571 L473 571 L473.25 571 L473.5 571 L473.75 571.01 L474 571.01 L474.25 571.01 L474.5 571.02 L474.75 571.02 L475 571.02 L475.25 571.03 L475.5 571.04 L475.75 571.04 L476 571.05 L476.25 571.05 L476.5 571.06 L476.75 571.07 L477 571.08 L477.25 571.09 L477.5 571.09 L477.75 571.1 L478 571.11 L478.25 571.12 L478.5 571.13 L478.75 571.14 L479 571.15 L479.25 571.16 L479.5 571.18 L479.75 571.19 L480 571.2 L480.25 571.22 L480.5 571.25 L480.75 571.28 L481 571.33 L481.25 571.39 L481.5 571.45 L481.75 571.52 L482 571.59 L482.25 571.67 L482.5 571.75 L482.75 571.83 L483 571.92 L483.25 572.01 L483.5 572.09 L483.75 572.18 L484 572.26 L484.25 572.34 L484.5 572.42 L484.75 572.49 L485 572.56 L485.25 572.62 L485.5 572.67 L485.75 572.72 L486 572.75 L486.25 572.78 L486.5 572.8 L486.55 572.8 L486.7 537.3 L487 572.8 L487.25 572.78 L487.5 572.77 L487.75 572.75 L488 572.72 L488.25 572.69 L488.5 572.65 L488.75 572.61 L489 572.56 L489.25 572.51 L489.5 572.46 L489.75 572.41 L490 572.35 L490.25 572.29 L490.5 572.23 L490.75 572.16 L491 572.1 L491.25 572.03 L491.5 571.97 L491.75 571.9 L492 571.83 L492.25 571.77 L492.5 571.7 L492.75 571.64 L493 571.57 L493.25 571.51 L493.5 571.45 L493.75 571.39 L494 571.34 L494.25 571.29 L494.5 571.24 L494.75 571.19 L495 571.15 L495.25 571.11 L495.5 571.08 L495.75 571.05 L496 571.03 L496.25 571.02 L496.5 571 L496.75 571 L497 571 L496.95 571 L497.1 607.7 L497.4 571 L497.5 571 L497.75 571 L498 571.01 L498.25 571.01 L498.5 571.01 L498.75 571.01 L499 571.02 L499.25 571.02 L499.5 571.03 L499.75 571.03 L500 571.03 L500.25 571.04 L500.5 571.05 L500.75 571.05 L501 571.06 L501.25 571.07 L501.5 571.07 L501.75 571.08 L502 571.09 L502.25 571.1 L502.5 571.1 L502.75 571.11 L503 571.12 L503.25 571.13 L503.5 571.14 L503.75 571.15 L504 571.16 L504.25 571.17 L504.5 571.18 L504.75 571.19 L505 571.2 L505.25 571.21 L505.5 571.23 L505.75 571.25 L506 571.27 L506.25 571.29 L506.5 571.32 L506.75 571.35 L507 571.38 L507.25 571.41 L507.5 571.44 L507.75 571.48 L508 571.52 L508.25 571.55 L508.5 571.59 L508.75 571.63 L509 571.68 L509.25 571.72 L509.5 571.76 L509.75 571.8 L510 571.85 L510.25 571.89 L510.5 571.93 L510.75 571.97 L510.65 571.96 L510.8 550.6 L511.1 572.04 L511.25 572.06 L511.5 572.11 L511.75 572.17 L512 572.23 L512.25 572.29 L512.5 572.36 L512.75 572.43 L513 572.5 L513.25 572.57 L513.5 572.64 L513.75 572.72 L514 572.8 L514.25 572.87 L514.5 572.95 L514.75 573.03 L515 573.11 L515.25 573.18 L515.5 573.26 L515.75 573.33 L516 573.4 L516.25 573.47 L516.5 573.54 L516.75 573.6 L517 573.66 L517.25 573.72 L517.5 573.77 L517.75 573.82 L518 573.86 L518.25 573.9 L518.5 573.93 L518.75 573.96 L519 573.98 L519.25 573.99 L519.5 574 L519.75 573.99 L520 573.96 L520.25 573.89 L520.5 573.8 L520.75 573.68 L521 573.54 L521.25 573.38 L521.5 573.2 L521.75 573.01 L522 572.8 L522.25 572.59 L522.5 572.36 L522.75 572.13 L523 571.89 L523.25 571.66 L523.5 571.42 L523.75 571.19 L524 570.97 L524.25 570.75 L524.5 570.55 L524.75 570.36 L525 570.18 L525.25 570.03 L525.5 569.89 L525.75 569.78 L526 569.69 L526.25 569.63 L526.5 569.6 L526.75 569.61 L527 569.64 L527.25 569.71 L527.5 569.81 L527.75 569.93 L528 570.08 L528.25 570.25 L528.5 570.43 L528.75 570.64 L529 570.85 L529.25 571.08 L529.5 571.31 L529.75 571.56 L530 571.8 L530.25 572.05 L530.5 572.29 L530.75 572.53 L531 572.77 L531.25 572.99 L531.5 573.21 L531.75 573.41 L532 573.59 L532.25 573.75 L532.5 573.89 L532.75 574.01 L533 574.1 L533.25 574.17 L533.25 574.17 L533.4 504.9 L533.7 574.2 L533.75 574.2 L534 574.19 L534.25 574.17 L534.5 574.14 L534.75 574.11 L535 574.07 L535.25 574.03 L535.5 573.97 L535.75 573.92 L536 573.86 L536.25 573.79 L536.5 573.73 L536.75 573.66 L537 573.59 L537.25 573.51 L537.5 573.44 L537.75 573.37 L538 573.29 L538.25 573.22 L538.5 573.15 L538.75 573.08 L539 573.02 L539.25 572.96 L539.5 572.9 L539.75 572.85 L540 572.8 L540.25 572.76 L540.5 572.72 L540.75 572.68 L541 572.64 L541.25 572.61 L541.5 572.57 L541.75 572.54 L542 572.51 L542.25 572.48 L542.5 572.45 L542.75 572.42 L543 572.39 L543.25 572.35 L543.5 572.32 L543.75 572.29 L544 572.25 L544.25 572.22 L544.5 572.18 L544.75 572.13 L545 572.09 L545.25 572.04 L545.5 571.99 L545.75 571.93 L545.85 571.91 L546 592.4 L546.3 571.77 L546.5 571.69 L546.75 571.57 L547 571.43 L547.25 571.28 L547.5 571.12 L547.75 570.95 L548 570.78 L548.25 570.61 L548.5 570.44 L548.75 570.28 L549 570.13 L549.25 569.99 L549.5 569.87 L549.75 569.77 L550 569.69 L550.25 569.63 L550.5 569.6 L550.75 569.61 L551 569.66 L551.25 569.75 L551.5 569.88 L551.75 570.04 L552 570.24 L552.25 570.46 L552.5 570.7 L552.75 570.96 L553 571.23 L553.25 571.52 L553.5 571.81 L553.75 572.11 L554 572.4 L554.25 572.7 L554.5 572.98 L554.75 573.25 L555 573.5 L555.25 573.73 L555.5 573.94 L555.75 574.13 L556 574.28 L556.25 574.39 L556.15 574.35 L556.3 504.9 L556.6 574.49 L556.75 574.5 L557 574.49 L557.25 574.47 L557.5 574.42 L557.75 574.36 L558 574.28 L558.25 574.19 L558.5 574.08 L558.75 573.97 L559 573.84 L559.25 573.7 L559.5 573.55 L559.75 573.4 L560 573.24 L560.25 573.08 L560.5 572.92 L560.75 572.75 L561 572.58 L561.25 572.42 L561.5 572.26 L561.75 572.1 L562 571.95 L562.25 571.8 L562.5 571.66 L562.75 571.53 L563 571.42 L563.25 571.31 L563.5 571.22 L563.75 571.14 L564 571.08 L564.25 571.03 L564.5 571.01 L564.75 571 L564.65 571 L564.8 608.9 L565.1 571.01 L565.25 571.03 L565.5 571.06 L565.75 571.09 L566 571.14 L566.25 571.19 L566.5 571.24 L566.75 571.3 L567 571.36 L567.25 571.42 L567.5 571.49 L567.75 571.55 L568 571.61 L568.25 571.67 L568.5 571.72 L568.75 571.77 L569 571.82 L569.25 571.85 L569.5 571.88 L569.75 571.89 L570 571.9 L570.25 571.89 L570.5 571.87 L570.75 571.82 L571 571.77 L571.25 571.7 L571.5 571.62 L571.75 571.53 L572 571.43 L572.25 571.33 L572.5 571.21 L572.75 571.1 L573 570.97 L573.25 570.85 L573.5 570.73 L573.75 570.6 L574 570.48 L574.25 570.36 L574.5 570.24 L574.75 570.13 L575 570.03 L575.25 569.93 L575.5 569.85 L575.75 569.77 L576 569.71 L576.25 569.66 L576.5 569.62 L576.75 569.6 L577 569.6 L577.25 569.61 L577.5 569.63 L577.75 569.65 L578 569.68 L578.25 569.72 L578.5 569.77 L578.75 569.82 L579 569.88 L579.25 569.94 L579.5 570.01 L579.75 570.08 L580 570.15 L580.25 570.23 L580.5 570.32 L580.75 570.4 L581 570.49 L581.25 570.57 L581.5 570.66 L581.75 570.75 L582 570.84 L582.25 570.93 L582.5 571.01 L582.75 571.1 L583 571.18 L583.25 571.27 L583.5 571.35 L583.75 571.42 L584 571.49 L584.25 571.56 L584.5 571.62 L584.75 571.68 L585 571.73 L585.25 571.78 L585.5 571.82 L585.75 571.85 L586 571.87 L586.25 571.89 L586.5 571.9 L586.75 571.9 L586.85 571.9 L587 601.5 L587.3 571.9 L587.5 571.9 L587.75 571.9 L588 571.9 L588.25 571.9 L588.5 571.9 L588.75 571.9 L589 571.9 L589.25 571.9 L589.5 571.9 L589.75 571.9 L590 571.9 L590.25 571.9 L590.5 571.9 L590.75 571.9 L591 571.9 L591.25 571.9 L591.5 571.9 L591.75 571.9 L592 571.9 L592.25 571.89 L592.5 571.88 L592.75 571.85 L593 571.81 L593.25 571.77 L593.5 571.71 L593.75 571.65 L594 571.59 L594.25 571.52 L594.5 571.45 L594.75 571.37 L595 571.3 L595.25 571.23 L595.5 571.15 L595.75 571.08 L596 571.01 L596.25 570.95 L596.5 570.89 L596.75 570.83 L597 570.79 L597.25 570.75 L597.5 570.72 L597.75 570.71 L598 570.7 L598.25 570.73 L598.5 570.8 L598.75 570.91 L599 571.07 L599.25 571.25 L599.5 571.47 L599.75 571.7 L600 571.95 L600.25 572.22 L600.5 572.49 L600.75 572.76 L601 573.04 L601.25 573.3 L601.5 573.55 L601.75 573.78 L602 573.99 L602.25 574.17 L602.5 574.31 L602.75 574.42 L603 574.48 L602.95 574.47 L603.1 498 L603.4 574.49 L603.5 574.49 L603.75 574.46 L604 574.41 L604.25 574.35 L604.5 574.28 L604.75 574.19 L605 574.09 L605.25 573.98 L605.5 573.86 L605.75 573.74 L606 573.61 L606.25 573.47 L606.5 573.33 L606.75 573.18 L607 573.04 L607.25 572.89 L607.5 572.74 L607.75 572.6 L608 572.46 L608.25 572.32 L608.5 572.19 L608.75 572.06 L609 571.94 L609.25 571.83 L609.5 571.73 L609.75 571.64 L610 571.56 L610.25 571.5 L610.5 571.45 L610.75 571.42 L611 571.4 L611.25 571.41 L611.5 571.47 L611.75 571.56 L612 571.69 L612.25 571.85 L612.5 572.03 L612.75 572.21 L613 572.4 L613.25 572.58 L613.5 572.75 L613.75 572.89 L614 573 L614.25 573.07 L614.5 573.1 L614.75 573.08 L615 573.03 L615.25 572.95 L615.5 572.85 L615.75 572.71 L616 572.56 L616.25 572.38 L616.5 572.19 L616.75 571.98 L617 571.76 L617.25 571.53 L617.5 571.29 L617.75 571.05 L618 570.8 L618.25 570.55 L618.5 570.31 L618.75 570.06 L619 569.83 L619.25 569.6 L619.5 569.39 L619.75 569.19 L620 569.01 L620.25 568.85 L620.5 568.7 L620.75 568.59 L621 568.5 L621.25 568.43 L621.5 568.4 L621.75 568.41 L622 568.45 L622.25 568.54 L622.5 568.66 L622.75 568.81 L623 568.99 L623.25 569.19 L623.5 569.41 L623.75 569.65 L624 569.91 L624.25 570.17 L624.5 570.44 L624.75 570.71 L625 570.98 L625.25 571.24 L625.5 571.5 L625.75 571.74 L626 571.97 L626.25 572.17 L626.5 572.36 L626.75 572.51 L627 572.64 L627.25 572.73 L627.5 572.79 L627.75 572.8 L627.85 572.79 L628 552.9 L628.3 572.72 L628.5 572.66 L628.75 572.56 L629 572.45 L629.25 572.31 L629.5 572.16 L629.75 571.99 L630 571.81 L630.25 571.62 L630.5 571.43 L630.75 571.22 L631 571.02 L631.25 570.81 L631.5 570.6 L631.75 570.39 L632 570.19 L632.25 570 L632.5 569.81 L632.75 569.64 L633 569.48 L633.25 569.33 L633.5 569.2 L633.75 569.1 L634 569.01 L634.25 568.95 L634.5 568.91 L634.75 568.9 L635 568.92 L635.25 568.98 L635.5 569.06 L635.55 569.08 L635.7 615.3 L636 569.3 L636.25 569.45 L636.5 569.62 L636.75 569.81 L637 570.01 L637.25 570.22 L637.5 570.45 L637.75 570.68 L638 570.91 L638.25 571.15 L638.5 571.39 L638.75 571.62 L639 571.85 L639.25 572.08 L639.5 572.29 L639.75 572.49 L640 572.68 L640.25 572.85 L640.5 573 L640.75 573.13 L641 573.24 L641.25 573.32 L641.5 573.38 L641.75 573.4 L642 573.38 L642.25 573.28 L642.5 573.13 L642.75 572.91 L643 572.65 L643.25 572.34 L643.5 571.99 L643.75 571.61 L644 571.21 L644.25 570.79 L644.5 570.35 L644.75 569.91 L645 569.47 L645.25 569.04 L645.5 568.63 L645.75 568.23 L646 567.87 L646.25 567.53 L646.5 567.24 L646.75 567 L647 566.8 L647.25 566.67 L647.5 566.61 L647.75 566.61 L648 566.65 L648.25 566.74 L648.5 566.86 L648.75 567.03 L649 567.23 L649.25 567.47 L649.5 567.75 L649.75 568.06 L650 568.41 L650.25 568.79 L650.5 569.21 L650.75 569.66 L651 570.14 L651.25 570.65 L651.5 571.2 L651.75 571.78 L652 572.38 L652.25 573.02 L652.5 573.68 L652.75 574.38 L653 575.09 L653.25 575.84 L653.4 576.3" fill="none" stroke="#2b54b0" stroke-width="1.6" stroke-linejoin="round" clip-path="url(#cf)"/>
<rect x="420" y="494" width="233.4" height="155.8" fill="none" stroke="#1c1c1c" stroke-width="2.0"/>
<path d="M536.7 649.8V646.5M536.7 494V497.3M420 526.08H423.3M653.4 526.08H650.1M420 571.9H423.3M653.4 571.9H650.1M420 617.72H423.3M653.4 617.72H650.1" stroke="#1c1c1c" stroke-width="2.0"/>
<text class="tk" transform="translate(414.3 532.53) scale(1 1.05)" x="-18.39" style="letter-spacing:0.8px">10</text>
<text class="tk" transform="translate(414.3 578.35) scale(1 1.05)" x="-8.49" style="letter-spacing:0.8px">0</text>
<text class="tk" transform="translate(414.3 624.17) scale(1 1.05)" x="-24.68" style="letter-spacing:0.8px">-10</text>
<text class="tk" transform="translate(420 671.9) scale(1 1.05)" x="-4.56">0</text>
<text class="tk" transform="translate(536.7 671.9) scale(1 1.05)" x="-12.2" style="letter-spacing:0.8px">0.1</text>
<text class="tk" transform="translate(653.4 671.9) scale(1 1.05)" x="-12.2" style="letter-spacing:0.8px">0.2</text>
<text class="lb xl" transform="translate(536.1 694) scale(1.04 1.05)" x="-25.41" style="letter-spacing:0.47px">Time/s</text>
<text class="lb yl" transform="translate(383.5 572.3) scale(1 1.05) rotate(-90)" x="-48.66">Amplitude/V</text>
<text class="lb" transform="translate(348.7 494.3)" x="-0.82" style="letter-spacing:0.3px">(f)</text>
</svg></body></html>
